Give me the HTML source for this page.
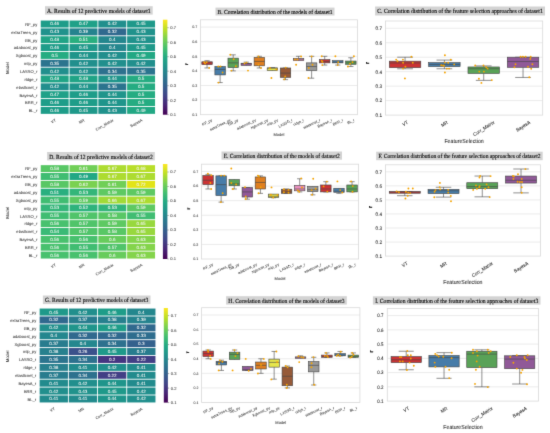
<!DOCTYPE html>
<html><head><meta charset="utf-8"><style>
html,body{margin:0;padding:0;background:#fff;}
text{paint-order:stroke;}
.lb{stroke:#262626;stroke-width:0.03px;}
.lb2{stroke:#262626;stroke-width:0.03px;}
.lb3{stroke:#262626;stroke-width:0.06px;}
.tt{stroke:#000;stroke-width:0.1px;}
.an{stroke:#fff;stroke-width:0.04px;}
svg{display:block;}
</style></head><body>
<svg width="550" height="433" viewBox="0 0 550 433" text-rendering="geometricPrecision">
<defs><filter id="soft" x="0" y="0" width="550" height="433" filterUnits="userSpaceOnUse" color-interpolation-filters="sRGB"><feConvolveMatrix order="3" kernelMatrix="1 8 1 8 64 8 1 8 1" edgeMode="duplicate"/></filter></defs>
<g filter="url(#soft)">
<rect width="550" height="433" fill="#fff"/>
<rect x="45" y="6.2" width="107.7" height="8.4" fill="#d3d3d3"/>
<text transform="translate(98.85,12.87) scale(1,1.12)" font-family="Liberation Serif, serif" font-size="5.60" text-anchor="middle" fill="#000" class="tt">A. Results of 12 predictive models of dataset1</text>
<rect x="40.75" y="20.55" width="27.9" height="6.95" fill="#1e9d89"/>
<text x="54.7" y="25.48" font-family="Liberation Sans, sans-serif" font-size="4.6" text-anchor="middle" fill="#f4f4f4" class="an">0.46</text>
<rect x="69.55" y="20.55" width="27.9" height="6.95" fill="#1fa188"/>
<text x="83.5" y="25.48" font-family="Liberation Sans, sans-serif" font-size="4.6" text-anchor="middle" fill="#f4f4f4" class="an">0.47</text>
<rect x="98.35" y="20.55" width="27.9" height="6.95" fill="#218f8d"/>
<text x="112.3" y="25.48" font-family="Liberation Sans, sans-serif" font-size="4.6" text-anchor="middle" fill="#f4f4f4" class="an">0.42</text>
<rect x="127.15" y="20.55" width="27.9" height="6.95" fill="#1f998a"/>
<text x="141.1" y="25.48" font-family="Liberation Sans, sans-serif" font-size="4.6" text-anchor="middle" fill="#f4f4f4" class="an">0.45</text>
<text x="37.3" y="25.88" font-family="Liberation Sans, sans-serif" font-size="4.1" text-anchor="end" fill="#262626" class="lb">RF_py</text>
<rect x="40.75" y="28.4" width="27.9" height="6.95" fill="#20928c"/>
<text x="54.7" y="33.33" font-family="Liberation Sans, sans-serif" font-size="4.6" text-anchor="middle" fill="#f4f4f4" class="an">0.43</text>
<rect x="69.55" y="28.4" width="27.9" height="6.95" fill="#25838e"/>
<text x="83.5" y="33.33" font-family="Liberation Sans, sans-serif" font-size="4.6" text-anchor="middle" fill="#f4f4f4" class="an">0.39</text>
<rect x="98.35" y="28.4" width="27.9" height="6.95" fill="#30698e"/>
<text x="112.3" y="33.33" font-family="Liberation Sans, sans-serif" font-size="4.6" text-anchor="middle" fill="#f4f4f4" class="an">0.32</text>
<rect x="127.15" y="28.4" width="27.9" height="6.95" fill="#20928c"/>
<text x="141.1" y="33.33" font-family="Liberation Sans, sans-serif" font-size="4.6" text-anchor="middle" fill="#f4f4f4" class="an">0.43</text>
<text x="37.3" y="33.73" font-family="Liberation Sans, sans-serif" font-size="4.1" text-anchor="end" fill="#262626" class="lb">extraTrees_py</text>
<rect x="40.75" y="36.25" width="27.9" height="6.95" fill="#20a486"/>
<text x="54.7" y="41.17" font-family="Liberation Sans, sans-serif" font-size="4.6" text-anchor="middle" fill="#f4f4f4" class="an">0.48</text>
<rect x="69.55" y="36.25" width="27.9" height="6.95" fill="#29af7f"/>
<text x="83.5" y="41.17" font-family="Liberation Sans, sans-serif" font-size="4.6" text-anchor="middle" fill="#f4f4f4" class="an">0.51</text>
<rect x="98.35" y="36.25" width="27.9" height="6.95" fill="#24878e"/>
<text x="112.3" y="41.17" font-family="Liberation Sans, sans-serif" font-size="4.6" text-anchor="middle" fill="#f4f4f4" class="an">0.4</text>
<rect x="127.15" y="36.25" width="27.9" height="6.95" fill="#20928c"/>
<text x="141.1" y="41.17" font-family="Liberation Sans, sans-serif" font-size="4.6" text-anchor="middle" fill="#f4f4f4" class="an">0.43</text>
<text x="37.3" y="41.57" font-family="Liberation Sans, sans-serif" font-size="4.1" text-anchor="end" fill="#262626" class="lb">GB_py</text>
<rect x="40.75" y="44.1" width="27.9" height="6.95" fill="#1e9d89"/>
<text x="54.7" y="49.02" font-family="Liberation Sans, sans-serif" font-size="4.6" text-anchor="middle" fill="#f4f4f4" class="an">0.46</text>
<rect x="69.55" y="44.1" width="27.9" height="6.95" fill="#1f998a"/>
<text x="83.5" y="49.02" font-family="Liberation Sans, sans-serif" font-size="4.6" text-anchor="middle" fill="#f4f4f4" class="an">0.45</text>
<rect x="98.35" y="44.1" width="27.9" height="6.95" fill="#24878e"/>
<text x="112.3" y="49.02" font-family="Liberation Sans, sans-serif" font-size="4.6" text-anchor="middle" fill="#f4f4f4" class="an">0.4</text>
<rect x="127.15" y="44.1" width="27.9" height="6.95" fill="#1f998a"/>
<text x="141.1" y="49.02" font-family="Liberation Sans, sans-serif" font-size="4.6" text-anchor="middle" fill="#f4f4f4" class="an">0.45</text>
<text x="37.3" y="49.42" font-family="Liberation Sans, sans-serif" font-size="4.1" text-anchor="end" fill="#262626" class="lb">adaboost_py</text>
<rect x="40.75" y="51.95" width="27.9" height="6.95" fill="#25ac82"/>
<text x="54.7" y="56.88" font-family="Liberation Sans, sans-serif" font-size="4.6" text-anchor="middle" fill="#f4f4f4" class="an">0.5</text>
<rect x="69.55" y="51.95" width="27.9" height="6.95" fill="#1f958b"/>
<text x="83.5" y="56.88" font-family="Liberation Sans, sans-serif" font-size="4.6" text-anchor="middle" fill="#f4f4f4" class="an">0.44</text>
<rect x="98.35" y="51.95" width="27.9" height="6.95" fill="#218f8d"/>
<text x="112.3" y="56.88" font-family="Liberation Sans, sans-serif" font-size="4.6" text-anchor="middle" fill="#f4f4f4" class="an">0.42</text>
<rect x="127.15" y="51.95" width="27.9" height="6.95" fill="#22a884"/>
<text x="141.1" y="56.88" font-family="Liberation Sans, sans-serif" font-size="4.6" text-anchor="middle" fill="#f4f4f4" class="an">0.49</text>
<text x="37.3" y="57.27" font-family="Liberation Sans, sans-serif" font-size="4.1" text-anchor="end" fill="#262626" class="lb">Xgboost_py</text>
<rect x="40.75" y="59.8" width="27.9" height="6.95" fill="#2b748e"/>
<text x="54.7" y="64.72" font-family="Liberation Sans, sans-serif" font-size="4.6" text-anchor="middle" fill="#f4f4f4" class="an">0.35</text>
<rect x="69.55" y="59.8" width="27.9" height="6.95" fill="#218f8d"/>
<text x="83.5" y="64.72" font-family="Liberation Sans, sans-serif" font-size="4.6" text-anchor="middle" fill="#f4f4f4" class="an">0.42</text>
<rect x="98.35" y="59.8" width="27.9" height="6.95" fill="#218f8d"/>
<text x="112.3" y="64.72" font-family="Liberation Sans, sans-serif" font-size="4.6" text-anchor="middle" fill="#f4f4f4" class="an">0.42</text>
<rect x="127.15" y="59.8" width="27.9" height="6.95" fill="#218f8d"/>
<text x="141.1" y="64.72" font-family="Liberation Sans, sans-serif" font-size="4.6" text-anchor="middle" fill="#f4f4f4" class="an">0.42</text>
<text x="37.3" y="65.12" font-family="Liberation Sans, sans-serif" font-size="4.1" text-anchor="end" fill="#262626" class="lb">mlp_py</text>
<rect x="40.75" y="67.65" width="27.9" height="6.95" fill="#218f8d"/>
<text x="54.7" y="72.57" font-family="Liberation Sans, sans-serif" font-size="4.6" text-anchor="middle" fill="#f4f4f4" class="an">0.42</text>
<rect x="69.55" y="67.65" width="27.9" height="6.95" fill="#218f8d"/>
<text x="83.5" y="72.57" font-family="Liberation Sans, sans-serif" font-size="4.6" text-anchor="middle" fill="#f4f4f4" class="an">0.42</text>
<rect x="98.35" y="67.65" width="27.9" height="6.95" fill="#2d718e"/>
<text x="112.3" y="72.57" font-family="Liberation Sans, sans-serif" font-size="4.6" text-anchor="middle" fill="#f4f4f4" class="an">0.34</text>
<rect x="127.15" y="67.65" width="27.9" height="6.95" fill="#2b748e"/>
<text x="141.1" y="72.57" font-family="Liberation Sans, sans-serif" font-size="4.6" text-anchor="middle" fill="#f4f4f4" class="an">0.35</text>
<text x="37.3" y="72.97" font-family="Liberation Sans, sans-serif" font-size="4.1" text-anchor="end" fill="#262626" class="lb">LASSO_r</text>
<rect x="40.75" y="75.5" width="27.9" height="6.95" fill="#20a486"/>
<text x="54.7" y="80.42" font-family="Liberation Sans, sans-serif" font-size="4.6" text-anchor="middle" fill="#f4f4f4" class="an">0.48</text>
<rect x="69.55" y="75.5" width="27.9" height="6.95" fill="#20a486"/>
<text x="83.5" y="80.42" font-family="Liberation Sans, sans-serif" font-size="4.6" text-anchor="middle" fill="#f4f4f4" class="an">0.48</text>
<rect x="98.35" y="75.5" width="27.9" height="6.95" fill="#1f958b"/>
<text x="112.3" y="80.42" font-family="Liberation Sans, sans-serif" font-size="4.6" text-anchor="middle" fill="#f4f4f4" class="an">0.44</text>
<rect x="127.15" y="75.5" width="27.9" height="6.95" fill="#25ac82"/>
<text x="141.1" y="80.42" font-family="Liberation Sans, sans-serif" font-size="4.6" text-anchor="middle" fill="#f4f4f4" class="an">0.5</text>
<text x="37.3" y="80.82" font-family="Liberation Sans, sans-serif" font-size="4.1" text-anchor="end" fill="#262626" class="lb">ridge_r</text>
<rect x="40.75" y="83.35" width="27.9" height="6.95" fill="#218f8d"/>
<text x="54.7" y="88.27" font-family="Liberation Sans, sans-serif" font-size="4.6" text-anchor="middle" fill="#f4f4f4" class="an">0.42</text>
<rect x="69.55" y="83.35" width="27.9" height="6.95" fill="#1f958b"/>
<text x="83.5" y="88.27" font-family="Liberation Sans, sans-serif" font-size="4.6" text-anchor="middle" fill="#f4f4f4" class="an">0.44</text>
<rect x="98.35" y="83.35" width="27.9" height="6.95" fill="#2b748e"/>
<text x="112.3" y="88.27" font-family="Liberation Sans, sans-serif" font-size="4.6" text-anchor="middle" fill="#f4f4f4" class="an">0.35</text>
<rect x="127.15" y="83.35" width="27.9" height="6.95" fill="#25ac82"/>
<text x="141.1" y="88.27" font-family="Liberation Sans, sans-serif" font-size="4.6" text-anchor="middle" fill="#f4f4f4" class="an">0.5</text>
<text x="37.3" y="88.67" font-family="Liberation Sans, sans-serif" font-size="4.1" text-anchor="end" fill="#262626" class="lb">elasticnet_r</text>
<rect x="40.75" y="91.2" width="27.9" height="6.95" fill="#1fa188"/>
<text x="54.7" y="96.12" font-family="Liberation Sans, sans-serif" font-size="4.6" text-anchor="middle" fill="#f4f4f4" class="an">0.47</text>
<rect x="69.55" y="91.2" width="27.9" height="6.95" fill="#1e9d89"/>
<text x="83.5" y="96.12" font-family="Liberation Sans, sans-serif" font-size="4.6" text-anchor="middle" fill="#f4f4f4" class="an">0.46</text>
<rect x="98.35" y="91.2" width="27.9" height="6.95" fill="#1f958b"/>
<text x="112.3" y="96.12" font-family="Liberation Sans, sans-serif" font-size="4.6" text-anchor="middle" fill="#f4f4f4" class="an">0.44</text>
<rect x="127.15" y="91.2" width="27.9" height="6.95" fill="#25ac82"/>
<text x="141.1" y="96.12" font-family="Liberation Sans, sans-serif" font-size="4.6" text-anchor="middle" fill="#f4f4f4" class="an">0.5</text>
<text x="37.3" y="96.52" font-family="Liberation Sans, sans-serif" font-size="4.1" text-anchor="end" fill="#262626" class="lb">BayesA_r</text>
<rect x="40.75" y="99.05" width="27.9" height="6.95" fill="#1e9d89"/>
<text x="54.7" y="103.97" font-family="Liberation Sans, sans-serif" font-size="4.6" text-anchor="middle" fill="#f4f4f4" class="an">0.46</text>
<rect x="69.55" y="99.05" width="27.9" height="6.95" fill="#1e9d89"/>
<text x="83.5" y="103.97" font-family="Liberation Sans, sans-serif" font-size="4.6" text-anchor="middle" fill="#f4f4f4" class="an">0.46</text>
<rect x="98.35" y="99.05" width="27.9" height="6.95" fill="#1f958b"/>
<text x="112.3" y="103.97" font-family="Liberation Sans, sans-serif" font-size="4.6" text-anchor="middle" fill="#f4f4f4" class="an">0.44</text>
<rect x="127.15" y="99.05" width="27.9" height="6.95" fill="#25ac82"/>
<text x="141.1" y="103.97" font-family="Liberation Sans, sans-serif" font-size="4.6" text-anchor="middle" fill="#f4f4f4" class="an">0.5</text>
<text x="37.3" y="104.37" font-family="Liberation Sans, sans-serif" font-size="4.1" text-anchor="end" fill="#262626" class="lb">BRR_r</text>
<rect x="40.75" y="106.9" width="27.9" height="6.95" fill="#1e9d89"/>
<text x="54.7" y="111.82" font-family="Liberation Sans, sans-serif" font-size="4.6" text-anchor="middle" fill="#f4f4f4" class="an">0.46</text>
<rect x="69.55" y="106.9" width="27.9" height="6.95" fill="#1f998a"/>
<text x="83.5" y="111.82" font-family="Liberation Sans, sans-serif" font-size="4.6" text-anchor="middle" fill="#f4f4f4" class="an">0.45</text>
<rect x="98.35" y="106.9" width="27.9" height="6.95" fill="#20928c"/>
<text x="112.3" y="111.82" font-family="Liberation Sans, sans-serif" font-size="4.6" text-anchor="middle" fill="#f4f4f4" class="an">0.43</text>
<rect x="127.15" y="106.9" width="27.9" height="6.95" fill="#22a884"/>
<text x="141.1" y="111.82" font-family="Liberation Sans, sans-serif" font-size="4.6" text-anchor="middle" fill="#f4f4f4" class="an">0.49</text>
<text x="37.3" y="112.22" font-family="Liberation Sans, sans-serif" font-size="4.1" text-anchor="end" fill="#262626" class="lb">BL_r</text>
<text transform="translate(7.7,68.2) rotate(-90)" font-family="Liberation Sans, sans-serif" font-size="4.3" text-anchor="middle" dy="0.36em" fill="#262626" class="lb">Model</text>
<text transform="translate(53.38,121.05) rotate(-30)" font-family="Liberation Sans, sans-serif" font-size="3.8" text-anchor="middle" dy="0.36em" fill="#262626" class="lb">VT</text>
<text transform="translate(81.73,121.31) rotate(-30)" font-family="Liberation Sans, sans-serif" font-size="3.8" text-anchor="middle" dy="0.36em" fill="#262626" class="lb">MR</text>
<text transform="translate(104.49,124.80) rotate(-30)" font-family="Liberation Sans, sans-serif" font-size="3.8" text-anchor="middle" dy="0.36em" fill="#262626" class="lb">Corr_Matrix</text>
<text transform="translate(136.22,123.11) rotate(-30)" font-family="Liberation Sans, sans-serif" font-size="3.8" text-anchor="middle" dy="0.36em" fill="#262626" class="lb">BayesA</text>
<defs><linearGradient id="cb0" x1="0" y1="1" x2="0" y2="0">
<stop offset="0.00" stop-color="#440154"/>
<stop offset="0.10" stop-color="#482475"/>
<stop offset="0.20" stop-color="#414487"/>
<stop offset="0.30" stop-color="#355f8d"/>
<stop offset="0.40" stop-color="#2a788e"/>
<stop offset="0.50" stop-color="#21918c"/>
<stop offset="0.60" stop-color="#22a884"/>
<stop offset="0.70" stop-color="#44bf70"/>
<stop offset="0.80" stop-color="#7ad151"/>
<stop offset="0.90" stop-color="#bddf26"/>
<stop offset="1.00" stop-color="#fde725"/>
</linearGradient></defs>
<rect x="162.9" y="19.7" width="4.5" height="95" fill="url(#cb0)"/>
<line x1="167.4" x2="168.7" y1="114.7" y2="114.7" stroke="#262626" stroke-width="0.4"/>
<text x="170.3" y="116.15" font-family="Liberation Sans, sans-serif" font-size="4.1" fill="#262626" class="lb">0.1</text>
<line x1="167.4" x2="168.7" y1="100.2" y2="100.2" stroke="#262626" stroke-width="0.4"/>
<text x="170.3" y="101.65" font-family="Liberation Sans, sans-serif" font-size="4.1" fill="#262626" class="lb">0.2</text>
<line x1="167.4" x2="168.7" y1="85.7" y2="85.7" stroke="#262626" stroke-width="0.4"/>
<text x="170.3" y="87.15" font-family="Liberation Sans, sans-serif" font-size="4.1" fill="#262626" class="lb">0.3</text>
<line x1="167.4" x2="168.7" y1="71.2" y2="71.2" stroke="#262626" stroke-width="0.4"/>
<text x="170.3" y="72.65" font-family="Liberation Sans, sans-serif" font-size="4.1" fill="#262626" class="lb">0.4</text>
<line x1="167.4" x2="168.7" y1="56.7" y2="56.7" stroke="#262626" stroke-width="0.4"/>
<text x="170.3" y="58.15" font-family="Liberation Sans, sans-serif" font-size="4.1" fill="#262626" class="lb">0.5</text>
<line x1="167.4" x2="168.7" y1="42.2" y2="42.2" stroke="#262626" stroke-width="0.4"/>
<text x="170.3" y="43.65" font-family="Liberation Sans, sans-serif" font-size="4.1" fill="#262626" class="lb">0.6</text>
<line x1="167.4" x2="168.7" y1="27.7" y2="27.7" stroke="#262626" stroke-width="0.4"/>
<text x="170.3" y="29.15" font-family="Liberation Sans, sans-serif" font-size="4.1" fill="#262626" class="lb">0.7</text>
<rect x="47.1" y="152" width="107.7" height="8.4" fill="#d3d3d3"/>
<text transform="translate(100.95,158.67) scale(1,1.12)" font-family="Liberation Serif, serif" font-size="5.60" text-anchor="middle" fill="#000" class="tt">D. Results of 12 predictive models of dataset2</text>
<rect x="40.75" y="165.15" width="27.9" height="6.96" fill="#58c765"/>
<text x="54.7" y="170.08" font-family="Liberation Sans, sans-serif" font-size="4.6" text-anchor="middle" fill="#f4f4f4" class="an">0.58</text>
<rect x="69.55" y="165.15" width="27.9" height="6.96" fill="#70cf57"/>
<text x="83.5" y="170.08" font-family="Liberation Sans, sans-serif" font-size="4.6" text-anchor="middle" fill="#f4f4f4" class="an">0.61</text>
<rect x="98.35" y="165.15" width="27.9" height="6.96" fill="#addc30"/>
<text x="112.3" y="170.08" font-family="Liberation Sans, sans-serif" font-size="4.6" text-anchor="middle" fill="#f4f4f4" class="an">0.67</text>
<rect x="127.15" y="165.15" width="27.9" height="6.96" fill="#b8de29"/>
<text x="141.1" y="170.08" font-family="Liberation Sans, sans-serif" font-size="4.6" text-anchor="middle" fill="#f4f4f4" class="an">0.68</text>
<text x="37.3" y="170.48" font-family="Liberation Sans, sans-serif" font-size="4.1" text-anchor="end" fill="#262626" class="lb">RF_py</text>
<rect x="40.75" y="173.01" width="27.9" height="6.96" fill="#40bd72"/>
<text x="54.7" y="177.94" font-family="Liberation Sans, sans-serif" font-size="4.6" text-anchor="middle" fill="#f4f4f4" class="an">0.55</text>
<rect x="69.55" y="173.01" width="27.9" height="6.96" fill="#22a884"/>
<text x="83.5" y="177.94" font-family="Liberation Sans, sans-serif" font-size="4.6" text-anchor="middle" fill="#f4f4f4" class="an">0.49</text>
<rect x="98.35" y="173.01" width="27.9" height="6.96" fill="#addc30"/>
<text x="112.3" y="177.94" font-family="Liberation Sans, sans-serif" font-size="4.6" text-anchor="middle" fill="#f4f4f4" class="an">0.67</text>
<rect x="127.15" y="173.01" width="27.9" height="6.96" fill="#addc30"/>
<text x="141.1" y="177.94" font-family="Liberation Sans, sans-serif" font-size="4.6" text-anchor="middle" fill="#f4f4f4" class="an">0.67</text>
<text x="37.3" y="178.34" font-family="Liberation Sans, sans-serif" font-size="4.1" text-anchor="end" fill="#262626" class="lb">extraTrees_py</text>
<rect x="40.75" y="180.87" width="27.9" height="6.96" fill="#58c765"/>
<text x="54.7" y="185.8" font-family="Liberation Sans, sans-serif" font-size="4.6" text-anchor="middle" fill="#f4f4f4" class="an">0.58</text>
<rect x="69.55" y="180.87" width="27.9" height="6.96" fill="#7ad151"/>
<text x="83.5" y="185.8" font-family="Liberation Sans, sans-serif" font-size="4.6" text-anchor="middle" fill="#f4f4f4" class="an">0.62</text>
<rect x="98.35" y="180.87" width="27.9" height="6.96" fill="#70cf57"/>
<text x="112.3" y="185.8" font-family="Liberation Sans, sans-serif" font-size="4.6" text-anchor="middle" fill="#f4f4f4" class="an">0.61</text>
<rect x="127.15" y="180.87" width="27.9" height="6.96" fill="#e2e418"/>
<text x="141.1" y="185.8" font-family="Liberation Sans, sans-serif" font-size="4.6" text-anchor="middle" fill="#f4f4f4" class="an">0.72</text>
<text x="37.3" y="186.2" font-family="Liberation Sans, sans-serif" font-size="4.1" text-anchor="end" fill="#262626" class="lb">GB_py</text>
<rect x="40.75" y="188.72" width="27.9" height="6.96" fill="#29af7f"/>
<text x="54.7" y="193.65" font-family="Liberation Sans, sans-serif" font-size="4.6" text-anchor="middle" fill="#f4f4f4" class="an">0.51</text>
<rect x="69.55" y="188.72" width="27.9" height="6.96" fill="#34b679"/>
<text x="83.5" y="193.65" font-family="Liberation Sans, sans-serif" font-size="4.6" text-anchor="middle" fill="#f4f4f4" class="an">0.53</text>
<rect x="98.35" y="188.72" width="27.9" height="6.96" fill="#5ec962"/>
<text x="112.3" y="193.65" font-family="Liberation Sans, sans-serif" font-size="4.6" text-anchor="middle" fill="#f4f4f4" class="an">0.59</text>
<rect x="127.15" y="188.72" width="27.9" height="6.96" fill="#5ec962"/>
<text x="141.1" y="193.65" font-family="Liberation Sans, sans-serif" font-size="4.6" text-anchor="middle" fill="#f4f4f4" class="an">0.59</text>
<text x="37.3" y="194.05" font-family="Liberation Sans, sans-serif" font-size="4.1" text-anchor="end" fill="#262626" class="lb">adaboost_py</text>
<rect x="40.75" y="196.58" width="27.9" height="6.96" fill="#40bd72"/>
<text x="54.7" y="201.51" font-family="Liberation Sans, sans-serif" font-size="4.6" text-anchor="middle" fill="#f4f4f4" class="an">0.55</text>
<rect x="69.55" y="196.58" width="27.9" height="6.96" fill="#5ec962"/>
<text x="83.5" y="201.51" font-family="Liberation Sans, sans-serif" font-size="4.6" text-anchor="middle" fill="#f4f4f4" class="an">0.59</text>
<rect x="98.35" y="196.58" width="27.9" height="6.96" fill="#a2da37"/>
<text x="112.3" y="201.51" font-family="Liberation Sans, sans-serif" font-size="4.6" text-anchor="middle" fill="#f4f4f4" class="an">0.66</text>
<rect x="127.15" y="196.58" width="27.9" height="6.96" fill="#addc30"/>
<text x="141.1" y="201.51" font-family="Liberation Sans, sans-serif" font-size="4.6" text-anchor="middle" fill="#f4f4f4" class="an">0.67</text>
<text x="37.3" y="201.91" font-family="Liberation Sans, sans-serif" font-size="4.1" text-anchor="end" fill="#262626" class="lb">Xgboost_py</text>
<rect x="40.75" y="204.44" width="27.9" height="6.96" fill="#34b679"/>
<text x="54.7" y="209.37" font-family="Liberation Sans, sans-serif" font-size="4.6" text-anchor="middle" fill="#f4f4f4" class="an">0.53</text>
<rect x="69.55" y="204.44" width="27.9" height="6.96" fill="#2eb37c"/>
<text x="83.5" y="209.37" font-family="Liberation Sans, sans-serif" font-size="4.6" text-anchor="middle" fill="#f4f4f4" class="an">0.52</text>
<rect x="98.35" y="204.44" width="27.9" height="6.96" fill="#34b679"/>
<text x="112.3" y="209.37" font-family="Liberation Sans, sans-serif" font-size="4.6" text-anchor="middle" fill="#f4f4f4" class="an">0.53</text>
<rect x="127.15" y="204.44" width="27.9" height="6.96" fill="#5ec962"/>
<text x="141.1" y="209.37" font-family="Liberation Sans, sans-serif" font-size="4.6" text-anchor="middle" fill="#f4f4f4" class="an">0.59</text>
<text x="37.3" y="209.77" font-family="Liberation Sans, sans-serif" font-size="4.1" text-anchor="end" fill="#262626" class="lb">mlp_py</text>
<rect x="40.75" y="212.3" width="27.9" height="6.96" fill="#40bd72"/>
<text x="54.7" y="217.23" font-family="Liberation Sans, sans-serif" font-size="4.6" text-anchor="middle" fill="#f4f4f4" class="an">0.55</text>
<rect x="69.55" y="212.3" width="27.9" height="6.96" fill="#50c46a"/>
<text x="83.5" y="217.23" font-family="Liberation Sans, sans-serif" font-size="4.6" text-anchor="middle" fill="#f4f4f4" class="an">0.57</text>
<rect x="98.35" y="212.3" width="27.9" height="6.96" fill="#58c765"/>
<text x="112.3" y="217.23" font-family="Liberation Sans, sans-serif" font-size="4.6" text-anchor="middle" fill="#f4f4f4" class="an">0.58</text>
<rect x="127.15" y="212.3" width="27.9" height="6.96" fill="#40bd72"/>
<text x="141.1" y="217.23" font-family="Liberation Sans, sans-serif" font-size="4.6" text-anchor="middle" fill="#f4f4f4" class="an">0.55</text>
<text x="37.3" y="217.63" font-family="Liberation Sans, sans-serif" font-size="4.1" text-anchor="end" fill="#262626" class="lb">LASSO_r</text>
<rect x="40.75" y="220.16" width="27.9" height="6.96" fill="#48c16e"/>
<text x="54.7" y="225.09" font-family="Liberation Sans, sans-serif" font-size="4.6" text-anchor="middle" fill="#f4f4f4" class="an">0.56</text>
<rect x="69.55" y="220.16" width="27.9" height="6.96" fill="#50c46a"/>
<text x="83.5" y="225.09" font-family="Liberation Sans, sans-serif" font-size="4.6" text-anchor="middle" fill="#f4f4f4" class="an">0.57</text>
<rect x="98.35" y="220.16" width="27.9" height="6.96" fill="#5ec962"/>
<text x="112.3" y="225.09" font-family="Liberation Sans, sans-serif" font-size="4.6" text-anchor="middle" fill="#f4f4f4" class="an">0.59</text>
<rect x="127.15" y="220.16" width="27.9" height="6.96" fill="#98d83e"/>
<text x="141.1" y="225.09" font-family="Liberation Sans, sans-serif" font-size="4.6" text-anchor="middle" fill="#f4f4f4" class="an">0.65</text>
<text x="37.3" y="225.49" font-family="Liberation Sans, sans-serif" font-size="4.1" text-anchor="end" fill="#262626" class="lb">ridge_r</text>
<rect x="40.75" y="228.02" width="27.9" height="6.96" fill="#3aba76"/>
<text x="54.7" y="232.95" font-family="Liberation Sans, sans-serif" font-size="4.6" text-anchor="middle" fill="#f4f4f4" class="an">0.54</text>
<rect x="69.55" y="228.02" width="27.9" height="6.96" fill="#50c46a"/>
<text x="83.5" y="232.95" font-family="Liberation Sans, sans-serif" font-size="4.6" text-anchor="middle" fill="#f4f4f4" class="an">0.57</text>
<rect x="98.35" y="228.02" width="27.9" height="6.96" fill="#58c765"/>
<text x="112.3" y="232.95" font-family="Liberation Sans, sans-serif" font-size="4.6" text-anchor="middle" fill="#f4f4f4" class="an">0.58</text>
<rect x="127.15" y="228.02" width="27.9" height="6.96" fill="#98d83e"/>
<text x="141.1" y="232.95" font-family="Liberation Sans, sans-serif" font-size="4.6" text-anchor="middle" fill="#f4f4f4" class="an">0.65</text>
<text x="37.3" y="233.35" font-family="Liberation Sans, sans-serif" font-size="4.1" text-anchor="end" fill="#262626" class="lb">elasticnet_r</text>
<rect x="40.75" y="235.88" width="27.9" height="6.96" fill="#48c16e"/>
<text x="54.7" y="240.8" font-family="Liberation Sans, sans-serif" font-size="4.6" text-anchor="middle" fill="#f4f4f4" class="an">0.56</text>
<rect x="69.55" y="235.88" width="27.9" height="6.96" fill="#48c16e"/>
<text x="83.5" y="240.8" font-family="Liberation Sans, sans-serif" font-size="4.6" text-anchor="middle" fill="#f4f4f4" class="an">0.56</text>
<rect x="98.35" y="235.88" width="27.9" height="6.96" fill="#67cc5c"/>
<text x="112.3" y="240.8" font-family="Liberation Sans, sans-serif" font-size="4.6" text-anchor="middle" fill="#f4f4f4" class="an">0.6</text>
<rect x="127.15" y="235.88" width="27.9" height="6.96" fill="#84d44b"/>
<text x="141.1" y="240.8" font-family="Liberation Sans, sans-serif" font-size="4.6" text-anchor="middle" fill="#f4f4f4" class="an">0.63</text>
<text x="37.3" y="241.2" font-family="Liberation Sans, sans-serif" font-size="4.1" text-anchor="end" fill="#262626" class="lb">BayesA_r</text>
<rect x="40.75" y="243.73" width="27.9" height="6.96" fill="#48c16e"/>
<text x="54.7" y="248.66" font-family="Liberation Sans, sans-serif" font-size="4.6" text-anchor="middle" fill="#f4f4f4" class="an">0.56</text>
<rect x="69.55" y="243.73" width="27.9" height="6.96" fill="#40bd72"/>
<text x="83.5" y="248.66" font-family="Liberation Sans, sans-serif" font-size="4.6" text-anchor="middle" fill="#f4f4f4" class="an">0.55</text>
<rect x="98.35" y="243.73" width="27.9" height="6.96" fill="#50c46a"/>
<text x="112.3" y="248.66" font-family="Liberation Sans, sans-serif" font-size="4.6" text-anchor="middle" fill="#f4f4f4" class="an">0.57</text>
<rect x="127.15" y="243.73" width="27.9" height="6.96" fill="#84d44b"/>
<text x="141.1" y="248.66" font-family="Liberation Sans, sans-serif" font-size="4.6" text-anchor="middle" fill="#f4f4f4" class="an">0.63</text>
<text x="37.3" y="249.06" font-family="Liberation Sans, sans-serif" font-size="4.1" text-anchor="end" fill="#262626" class="lb">BRR_r</text>
<rect x="40.75" y="251.59" width="27.9" height="6.96" fill="#48c16e"/>
<text x="54.7" y="256.52" font-family="Liberation Sans, sans-serif" font-size="4.6" text-anchor="middle" fill="#f4f4f4" class="an">0.56</text>
<rect x="69.55" y="251.59" width="27.9" height="6.96" fill="#48c16e"/>
<text x="83.5" y="256.52" font-family="Liberation Sans, sans-serif" font-size="4.6" text-anchor="middle" fill="#f4f4f4" class="an">0.56</text>
<rect x="98.35" y="251.59" width="27.9" height="6.96" fill="#67cc5c"/>
<text x="112.3" y="256.52" font-family="Liberation Sans, sans-serif" font-size="4.6" text-anchor="middle" fill="#f4f4f4" class="an">0.6</text>
<rect x="127.15" y="251.59" width="27.9" height="6.96" fill="#84d44b"/>
<text x="141.1" y="256.52" font-family="Liberation Sans, sans-serif" font-size="4.6" text-anchor="middle" fill="#f4f4f4" class="an">0.63</text>
<text x="37.3" y="256.92" font-family="Liberation Sans, sans-serif" font-size="4.1" text-anchor="end" fill="#262626" class="lb">BL_r</text>
<text transform="translate(7.7,212.85) rotate(-90)" font-family="Liberation Sans, sans-serif" font-size="4.3" text-anchor="middle" dy="0.36em" fill="#262626" class="lb">Model</text>
<text transform="translate(53.38,265.75) rotate(-30)" font-family="Liberation Sans, sans-serif" font-size="3.8" text-anchor="middle" dy="0.36em" fill="#262626" class="lb">VT</text>
<text transform="translate(81.73,266.01) rotate(-30)" font-family="Liberation Sans, sans-serif" font-size="3.8" text-anchor="middle" dy="0.36em" fill="#262626" class="lb">MR</text>
<text transform="translate(104.49,269.50) rotate(-30)" font-family="Liberation Sans, sans-serif" font-size="3.8" text-anchor="middle" dy="0.36em" fill="#262626" class="lb">Corr_Matrix</text>
<text transform="translate(136.22,267.81) rotate(-30)" font-family="Liberation Sans, sans-serif" font-size="3.8" text-anchor="middle" dy="0.36em" fill="#262626" class="lb">BayesA</text>
<defs><linearGradient id="cb1" x1="0" y1="1" x2="0" y2="0">
<stop offset="0.00" stop-color="#440154"/>
<stop offset="0.10" stop-color="#482475"/>
<stop offset="0.20" stop-color="#414487"/>
<stop offset="0.30" stop-color="#355f8d"/>
<stop offset="0.40" stop-color="#2a788e"/>
<stop offset="0.50" stop-color="#21918c"/>
<stop offset="0.60" stop-color="#22a884"/>
<stop offset="0.70" stop-color="#44bf70"/>
<stop offset="0.80" stop-color="#7ad151"/>
<stop offset="0.90" stop-color="#bddf26"/>
<stop offset="1.00" stop-color="#fde725"/>
</linearGradient></defs>
<rect x="162.9" y="164" width="4.5" height="95" fill="url(#cb1)"/>
<line x1="167.4" x2="168.7" y1="259" y2="259" stroke="#262626" stroke-width="0.4"/>
<text x="170.3" y="260.45" font-family="Liberation Sans, sans-serif" font-size="4.1" fill="#262626" class="lb">0.1</text>
<line x1="167.4" x2="168.7" y1="244.5" y2="244.5" stroke="#262626" stroke-width="0.4"/>
<text x="170.3" y="245.95" font-family="Liberation Sans, sans-serif" font-size="4.1" fill="#262626" class="lb">0.2</text>
<line x1="167.4" x2="168.7" y1="230" y2="230" stroke="#262626" stroke-width="0.4"/>
<text x="170.3" y="231.45" font-family="Liberation Sans, sans-serif" font-size="4.1" fill="#262626" class="lb">0.3</text>
<line x1="167.4" x2="168.7" y1="215.5" y2="215.5" stroke="#262626" stroke-width="0.4"/>
<text x="170.3" y="216.95" font-family="Liberation Sans, sans-serif" font-size="4.1" fill="#262626" class="lb">0.4</text>
<line x1="167.4" x2="168.7" y1="201" y2="201" stroke="#262626" stroke-width="0.4"/>
<text x="170.3" y="202.45" font-family="Liberation Sans, sans-serif" font-size="4.1" fill="#262626" class="lb">0.5</text>
<line x1="167.4" x2="168.7" y1="186.5" y2="186.5" stroke="#262626" stroke-width="0.4"/>
<text x="170.3" y="187.95" font-family="Liberation Sans, sans-serif" font-size="4.1" fill="#262626" class="lb">0.6</text>
<line x1="167.4" x2="168.7" y1="172" y2="172" stroke="#262626" stroke-width="0.4"/>
<text x="170.3" y="173.45" font-family="Liberation Sans, sans-serif" font-size="4.1" fill="#262626" class="lb">0.7</text>
<rect x="42.9" y="295.5" width="107.6" height="8.6" fill="#d3d3d3"/>
<text transform="translate(96.7,302.27) scale(1,1.12)" font-family="Liberation Serif, serif" font-size="5.59" text-anchor="middle" fill="#000" class="tt">G. Results of 12 predictive models of dataset3</text>
<rect x="39.65" y="308.55" width="28.28" height="7" fill="#1f998a"/>
<text x="53.79" y="313.5" font-family="Liberation Sans, sans-serif" font-size="4.6" text-anchor="middle" fill="#f4f4f4" class="an">0.45</text>
<rect x="68.83" y="308.55" width="28.28" height="7" fill="#218f8d"/>
<text x="82.96" y="313.5" font-family="Liberation Sans, sans-serif" font-size="4.6" text-anchor="middle" fill="#f4f4f4" class="an">0.42</text>
<rect x="98" y="308.55" width="28.28" height="7" fill="#1e9d89"/>
<text x="112.14" y="313.5" font-family="Liberation Sans, sans-serif" font-size="4.6" text-anchor="middle" fill="#f4f4f4" class="an">0.46</text>
<rect x="127.18" y="308.55" width="28.28" height="7" fill="#24878e"/>
<text x="141.31" y="313.5" font-family="Liberation Sans, sans-serif" font-size="4.6" text-anchor="middle" fill="#f4f4f4" class="an">0.4</text>
<text x="36.2" y="313.9" font-family="Liberation Sans, sans-serif" font-size="4.1" text-anchor="end" fill="#262626" class="lb">RF_py</text>
<rect x="39.65" y="316.45" width="28.28" height="7" fill="#30698e"/>
<text x="53.79" y="321.4" font-family="Liberation Sans, sans-serif" font-size="4.6" text-anchor="middle" fill="#f4f4f4" class="an">0.32</text>
<rect x="68.83" y="316.45" width="28.28" height="7" fill="#287c8e"/>
<text x="82.96" y="321.4" font-family="Liberation Sans, sans-serif" font-size="4.6" text-anchor="middle" fill="#f4f4f4" class="an">0.37</text>
<rect x="98" y="316.45" width="28.28" height="7" fill="#27808e"/>
<text x="112.14" y="321.4" font-family="Liberation Sans, sans-serif" font-size="4.6" text-anchor="middle" fill="#f4f4f4" class="an">0.38</text>
<rect x="127.18" y="316.45" width="28.28" height="7" fill="#25838e"/>
<text x="141.31" y="321.4" font-family="Liberation Sans, sans-serif" font-size="4.6" text-anchor="middle" fill="#f4f4f4" class="an">0.39</text>
<text x="36.2" y="321.8" font-family="Liberation Sans, sans-serif" font-size="4.1" text-anchor="end" fill="#262626" class="lb">extraTrees_py</text>
<rect x="39.65" y="324.35" width="28.28" height="7" fill="#218f8d"/>
<text x="53.79" y="329.3" font-family="Liberation Sans, sans-serif" font-size="4.6" text-anchor="middle" fill="#f4f4f4" class="an">0.42</text>
<rect x="68.83" y="324.35" width="28.28" height="7" fill="#1f958b"/>
<text x="82.96" y="329.3" font-family="Liberation Sans, sans-serif" font-size="4.6" text-anchor="middle" fill="#f4f4f4" class="an">0.44</text>
<rect x="98" y="324.35" width="28.28" height="7" fill="#1e9d89"/>
<text x="112.14" y="329.3" font-family="Liberation Sans, sans-serif" font-size="4.6" text-anchor="middle" fill="#f4f4f4" class="an">0.46</text>
<rect x="127.18" y="324.35" width="28.28" height="7" fill="#30698e"/>
<text x="141.31" y="329.3" font-family="Liberation Sans, sans-serif" font-size="4.6" text-anchor="middle" fill="#f4f4f4" class="an">0.32</text>
<text x="36.2" y="329.7" font-family="Liberation Sans, sans-serif" font-size="4.1" text-anchor="end" fill="#262626" class="lb">GB_py</text>
<rect x="39.65" y="332.25" width="28.28" height="7" fill="#24878e"/>
<text x="53.79" y="337.2" font-family="Liberation Sans, sans-serif" font-size="4.6" text-anchor="middle" fill="#f4f4f4" class="an">0.4</text>
<rect x="68.83" y="332.25" width="28.28" height="7" fill="#30698e"/>
<text x="82.96" y="337.2" font-family="Liberation Sans, sans-serif" font-size="4.6" text-anchor="middle" fill="#f4f4f4" class="an">0.32</text>
<rect x="98" y="332.25" width="28.28" height="7" fill="#30698e"/>
<text x="112.14" y="337.2" font-family="Liberation Sans, sans-serif" font-size="4.6" text-anchor="middle" fill="#f4f4f4" class="an">0.32</text>
<rect x="127.18" y="332.25" width="28.28" height="7" fill="#2e6d8e"/>
<text x="141.31" y="337.2" font-family="Liberation Sans, sans-serif" font-size="4.6" text-anchor="middle" fill="#f4f4f4" class="an">0.33</text>
<text x="36.2" y="337.6" font-family="Liberation Sans, sans-serif" font-size="4.1" text-anchor="end" fill="#262626" class="lb">adaboost_py</text>
<rect x="39.65" y="340.15" width="28.28" height="7" fill="#287c8e"/>
<text x="53.79" y="345.1" font-family="Liberation Sans, sans-serif" font-size="4.6" text-anchor="middle" fill="#f4f4f4" class="an">0.37</text>
<rect x="68.83" y="340.15" width="28.28" height="7" fill="#24878e"/>
<text x="82.96" y="345.1" font-family="Liberation Sans, sans-serif" font-size="4.6" text-anchor="middle" fill="#f4f4f4" class="an">0.4</text>
<rect x="98" y="340.15" width="28.28" height="7" fill="#2d718e"/>
<text x="112.14" y="345.1" font-family="Liberation Sans, sans-serif" font-size="4.6" text-anchor="middle" fill="#f4f4f4" class="an">0.34</text>
<rect x="127.18" y="340.15" width="28.28" height="7" fill="#34618d"/>
<text x="141.31" y="345.1" font-family="Liberation Sans, sans-serif" font-size="4.6" text-anchor="middle" fill="#f4f4f4" class="an">0.3</text>
<text x="36.2" y="345.5" font-family="Liberation Sans, sans-serif" font-size="4.1" text-anchor="end" fill="#262626" class="lb">Xgboost_py</text>
<rect x="39.65" y="348.05" width="28.28" height="7" fill="#27808e"/>
<text x="53.79" y="353" font-family="Liberation Sans, sans-serif" font-size="4.6" text-anchor="middle" fill="#f4f4f4" class="an">0.38</text>
<rect x="68.83" y="348.05" width="28.28" height="7" fill="#3b518b"/>
<text x="82.96" y="353" font-family="Liberation Sans, sans-serif" font-size="4.6" text-anchor="middle" fill="#f4f4f4" class="an">0.26</text>
<rect x="98" y="348.05" width="28.28" height="7" fill="#1f998a"/>
<text x="112.14" y="353" font-family="Liberation Sans, sans-serif" font-size="4.6" text-anchor="middle" fill="#f4f4f4" class="an">0.45</text>
<rect x="127.18" y="348.05" width="28.28" height="7" fill="#287c8e"/>
<text x="141.31" y="353" font-family="Liberation Sans, sans-serif" font-size="4.6" text-anchor="middle" fill="#f4f4f4" class="an">0.37</text>
<text x="36.2" y="353.4" font-family="Liberation Sans, sans-serif" font-size="4.1" text-anchor="end" fill="#262626" class="lb">mlp_py</text>
<rect x="39.65" y="355.95" width="28.28" height="7" fill="#2b748e"/>
<text x="53.79" y="360.9" font-family="Liberation Sans, sans-serif" font-size="4.6" text-anchor="middle" fill="#f4f4f4" class="an">0.35</text>
<rect x="68.83" y="355.95" width="28.28" height="7" fill="#2d718e"/>
<text x="82.96" y="360.9" font-family="Liberation Sans, sans-serif" font-size="4.6" text-anchor="middle" fill="#f4f4f4" class="an">0.34</text>
<rect x="98" y="355.95" width="28.28" height="7" fill="#453581"/>
<text x="112.14" y="360.9" font-family="Liberation Sans, sans-serif" font-size="4.6" text-anchor="middle" fill="#f4f4f4" class="an">0.2</text>
<rect x="127.18" y="355.95" width="28.28" height="7" fill="#423f85"/>
<text x="141.31" y="360.9" font-family="Liberation Sans, sans-serif" font-size="4.6" text-anchor="middle" fill="#f4f4f4" class="an">0.22</text>
<text x="36.2" y="361.3" font-family="Liberation Sans, sans-serif" font-size="4.1" text-anchor="end" fill="#262626" class="lb">LASSO_r</text>
<rect x="39.65" y="363.85" width="28.28" height="7" fill="#27808e"/>
<text x="53.79" y="368.8" font-family="Liberation Sans, sans-serif" font-size="4.6" text-anchor="middle" fill="#f4f4f4" class="an">0.38</text>
<rect x="68.83" y="363.85" width="28.28" height="7" fill="#228b8d"/>
<text x="82.96" y="368.8" font-family="Liberation Sans, sans-serif" font-size="4.6" text-anchor="middle" fill="#f4f4f4" class="an">0.41</text>
<rect x="98" y="363.85" width="28.28" height="7" fill="#218f8d"/>
<text x="112.14" y="368.8" font-family="Liberation Sans, sans-serif" font-size="4.6" text-anchor="middle" fill="#f4f4f4" class="an">0.42</text>
<rect x="127.18" y="363.85" width="28.28" height="7" fill="#228b8d"/>
<text x="141.31" y="368.8" font-family="Liberation Sans, sans-serif" font-size="4.6" text-anchor="middle" fill="#f4f4f4" class="an">0.41</text>
<text x="36.2" y="369.2" font-family="Liberation Sans, sans-serif" font-size="4.1" text-anchor="end" fill="#262626" class="lb">ridge_r</text>
<rect x="39.65" y="371.75" width="28.28" height="7" fill="#287c8e"/>
<text x="53.79" y="376.7" font-family="Liberation Sans, sans-serif" font-size="4.6" text-anchor="middle" fill="#f4f4f4" class="an">0.37</text>
<rect x="68.83" y="371.75" width="28.28" height="7" fill="#2d718e"/>
<text x="82.96" y="376.7" font-family="Liberation Sans, sans-serif" font-size="4.6" text-anchor="middle" fill="#f4f4f4" class="an">0.34</text>
<rect x="98" y="371.75" width="28.28" height="7" fill="#423f85"/>
<text x="112.14" y="376.7" font-family="Liberation Sans, sans-serif" font-size="4.6" text-anchor="middle" fill="#f4f4f4" class="an">0.22</text>
<rect x="127.18" y="371.75" width="28.28" height="7" fill="#228b8d"/>
<text x="141.31" y="376.7" font-family="Liberation Sans, sans-serif" font-size="4.6" text-anchor="middle" fill="#f4f4f4" class="an">0.41</text>
<text x="36.2" y="377.1" font-family="Liberation Sans, sans-serif" font-size="4.1" text-anchor="end" fill="#262626" class="lb">elasticnet_r</text>
<rect x="39.65" y="379.65" width="28.28" height="7" fill="#228b8d"/>
<text x="53.79" y="384.6" font-family="Liberation Sans, sans-serif" font-size="4.6" text-anchor="middle" fill="#f4f4f4" class="an">0.41</text>
<rect x="68.83" y="379.65" width="28.28" height="7" fill="#218f8d"/>
<text x="82.96" y="384.6" font-family="Liberation Sans, sans-serif" font-size="4.6" text-anchor="middle" fill="#f4f4f4" class="an">0.42</text>
<rect x="98" y="379.65" width="28.28" height="7" fill="#1f958b"/>
<text x="112.14" y="384.6" font-family="Liberation Sans, sans-serif" font-size="4.6" text-anchor="middle" fill="#f4f4f4" class="an">0.44</text>
<rect x="127.18" y="379.65" width="28.28" height="7" fill="#228b8d"/>
<text x="141.31" y="384.6" font-family="Liberation Sans, sans-serif" font-size="4.6" text-anchor="middle" fill="#f4f4f4" class="an">0.41</text>
<text x="36.2" y="385" font-family="Liberation Sans, sans-serif" font-size="4.1" text-anchor="end" fill="#262626" class="lb">BayesA_r</text>
<rect x="39.65" y="387.55" width="28.28" height="7" fill="#218f8d"/>
<text x="53.79" y="392.5" font-family="Liberation Sans, sans-serif" font-size="4.6" text-anchor="middle" fill="#f4f4f4" class="an">0.42</text>
<rect x="68.83" y="387.55" width="28.28" height="7" fill="#20928c"/>
<text x="82.96" y="392.5" font-family="Liberation Sans, sans-serif" font-size="4.6" text-anchor="middle" fill="#f4f4f4" class="an">0.43</text>
<rect x="98" y="387.55" width="28.28" height="7" fill="#1f998a"/>
<text x="112.14" y="392.5" font-family="Liberation Sans, sans-serif" font-size="4.6" text-anchor="middle" fill="#f4f4f4" class="an">0.45</text>
<rect x="127.18" y="387.55" width="28.28" height="7" fill="#218f8d"/>
<text x="141.31" y="392.5" font-family="Liberation Sans, sans-serif" font-size="4.6" text-anchor="middle" fill="#f4f4f4" class="an">0.42</text>
<text x="36.2" y="392.9" font-family="Liberation Sans, sans-serif" font-size="4.1" text-anchor="end" fill="#262626" class="lb">BRR_r</text>
<rect x="39.65" y="395.45" width="28.28" height="7" fill="#228b8d"/>
<text x="53.79" y="400.4" font-family="Liberation Sans, sans-serif" font-size="4.6" text-anchor="middle" fill="#f4f4f4" class="an">0.41</text>
<rect x="68.83" y="395.45" width="28.28" height="7" fill="#228b8d"/>
<text x="82.96" y="400.4" font-family="Liberation Sans, sans-serif" font-size="4.6" text-anchor="middle" fill="#f4f4f4" class="an">0.41</text>
<rect x="98" y="395.45" width="28.28" height="7" fill="#1f958b"/>
<text x="112.14" y="400.4" font-family="Liberation Sans, sans-serif" font-size="4.6" text-anchor="middle" fill="#f4f4f4" class="an">0.44</text>
<rect x="127.18" y="395.45" width="28.28" height="7" fill="#218f8d"/>
<text x="141.31" y="400.4" font-family="Liberation Sans, sans-serif" font-size="4.6" text-anchor="middle" fill="#f4f4f4" class="an">0.42</text>
<text x="36.2" y="400.8" font-family="Liberation Sans, sans-serif" font-size="4.1" text-anchor="end" fill="#262626" class="lb">BL_r</text>
<text transform="translate(7.7,356.5) rotate(-90)" font-family="Liberation Sans, sans-serif" font-size="4.3" text-anchor="middle" dy="0.36em" fill="#262626" class="lb">Model</text>
<text transform="translate(52.47,409.65) rotate(-30)" font-family="Liberation Sans, sans-serif" font-size="3.8" text-anchor="middle" dy="0.36em" fill="#262626" class="lb">VT</text>
<text transform="translate(81.19,409.91) rotate(-30)" font-family="Liberation Sans, sans-serif" font-size="3.8" text-anchor="middle" dy="0.36em" fill="#262626" class="lb">MR</text>
<text transform="translate(104.33,413.40) rotate(-30)" font-family="Liberation Sans, sans-serif" font-size="3.8" text-anchor="middle" dy="0.36em" fill="#262626" class="lb">Corr_Matrix</text>
<text transform="translate(136.43,411.71) rotate(-30)" font-family="Liberation Sans, sans-serif" font-size="3.8" text-anchor="middle" dy="0.36em" fill="#262626" class="lb">BayesA</text>
<defs><linearGradient id="cb2" x1="0" y1="1" x2="0" y2="0">
<stop offset="0.00" stop-color="#440154"/>
<stop offset="0.10" stop-color="#482475"/>
<stop offset="0.20" stop-color="#414487"/>
<stop offset="0.30" stop-color="#355f8d"/>
<stop offset="0.40" stop-color="#2a788e"/>
<stop offset="0.50" stop-color="#21918c"/>
<stop offset="0.60" stop-color="#22a884"/>
<stop offset="0.70" stop-color="#44bf70"/>
<stop offset="0.80" stop-color="#7ad151"/>
<stop offset="0.90" stop-color="#bddf26"/>
<stop offset="1.00" stop-color="#fde725"/>
</linearGradient></defs>
<rect x="163.8" y="308" width="4.1" height="94.6" fill="url(#cb2)"/>
<line x1="167.9" x2="169.2" y1="402.6" y2="402.6" stroke="#262626" stroke-width="0.4"/>
<text x="170.8" y="404.05" font-family="Liberation Sans, sans-serif" font-size="4.1" fill="#262626" class="lb">0.1</text>
<line x1="167.9" x2="169.2" y1="388.1" y2="388.1" stroke="#262626" stroke-width="0.4"/>
<text x="170.8" y="389.55" font-family="Liberation Sans, sans-serif" font-size="4.1" fill="#262626" class="lb">0.2</text>
<line x1="167.9" x2="169.2" y1="373.6" y2="373.6" stroke="#262626" stroke-width="0.4"/>
<text x="170.8" y="375.05" font-family="Liberation Sans, sans-serif" font-size="4.1" fill="#262626" class="lb">0.3</text>
<line x1="167.9" x2="169.2" y1="359.1" y2="359.1" stroke="#262626" stroke-width="0.4"/>
<text x="170.8" y="360.55" font-family="Liberation Sans, sans-serif" font-size="4.1" fill="#262626" class="lb">0.4</text>
<line x1="167.9" x2="169.2" y1="344.6" y2="344.6" stroke="#262626" stroke-width="0.4"/>
<text x="170.8" y="346.05" font-family="Liberation Sans, sans-serif" font-size="4.1" fill="#262626" class="lb">0.5</text>
<line x1="167.9" x2="169.2" y1="330.1" y2="330.1" stroke="#262626" stroke-width="0.4"/>
<text x="170.8" y="331.55" font-family="Liberation Sans, sans-serif" font-size="4.1" fill="#262626" class="lb">0.6</text>
<line x1="167.9" x2="169.2" y1="315.6" y2="315.6" stroke="#262626" stroke-width="0.4"/>
<text x="170.8" y="317.05" font-family="Liberation Sans, sans-serif" font-size="4.1" fill="#262626" class="lb">0.7</text>
<rect x="215.5" y="7.6" width="119" height="7.9" fill="#d3d3d3"/>
<text transform="translate(275,13.98) scale(1,1.12)" font-family="Liberation Serif, serif" font-size="5.50" text-anchor="middle" fill="#000" class="tt">B. Correlation distribution of the models of dataset1</text>
<text transform="translate(197.3,116.03) scale(1,1.0)" font-family="Liberation Sans, sans-serif" font-size="3.7" text-anchor="end" fill="#262626" class="lb2">0.1</text>
<line x1="200.5" x2="357.4" y1="100.1" y2="100.1" stroke="#e6e6e6" stroke-width="0.8"/>
<text transform="translate(197.3,101.43) scale(1,1.0)" font-family="Liberation Sans, sans-serif" font-size="3.7" text-anchor="end" fill="#262626" class="lb2">0.2</text>
<line x1="200.5" x2="357.4" y1="85.5" y2="85.5" stroke="#e6e6e6" stroke-width="0.8"/>
<text transform="translate(197.3,86.83) scale(1,1.0)" font-family="Liberation Sans, sans-serif" font-size="3.7" text-anchor="end" fill="#262626" class="lb2">0.3</text>
<line x1="200.5" x2="357.4" y1="70.9" y2="70.9" stroke="#e6e6e6" stroke-width="0.8"/>
<text transform="translate(197.3,72.23) scale(1,1.0)" font-family="Liberation Sans, sans-serif" font-size="3.7" text-anchor="end" fill="#262626" class="lb2">0.4</text>
<line x1="200.5" x2="357.4" y1="56.3" y2="56.3" stroke="#e6e6e6" stroke-width="0.8"/>
<text transform="translate(197.3,57.63) scale(1,1.0)" font-family="Liberation Sans, sans-serif" font-size="3.7" text-anchor="end" fill="#262626" class="lb2">0.5</text>
<line x1="200.5" x2="357.4" y1="41.7" y2="41.7" stroke="#e6e6e6" stroke-width="0.8"/>
<text transform="translate(197.3,43.03) scale(1,1.0)" font-family="Liberation Sans, sans-serif" font-size="3.7" text-anchor="end" fill="#262626" class="lb2">0.6</text>
<line x1="200.5" x2="357.4" y1="27.1" y2="27.1" stroke="#e6e6e6" stroke-width="0.8"/>
<text transform="translate(197.3,28.43) scale(1,1.0)" font-family="Liberation Sans, sans-serif" font-size="3.7" text-anchor="end" fill="#262626" class="lb2">0.7</text>
<rect x="200.5" y="19.8" width="156.9" height="94.9" fill="none" stroke="#d9d9d9" stroke-width="0.8"/>
<line x1="207.04" x2="207.04" y1="61.77" y2="60.68" stroke="#444444" stroke-width="0.6"/>
<line x1="207.04" x2="207.04" y1="64.69" y2="67.98" stroke="#444444" stroke-width="0.6"/>
<line x1="204.42" x2="209.65" y1="60.68" y2="60.68" stroke="#444444" stroke-width="0.6"/>
<line x1="204.42" x2="209.65" y1="67.98" y2="67.98" stroke="#444444" stroke-width="0.6"/>
<rect x="201.81" y="61.77" width="10.46" height="2.92" fill="#cb3335" stroke="#444444" stroke-width="0.6"/>
<line x1="201.81" x2="212.27" y1="62.87" y2="62.87" stroke="#444444" stroke-width="0.6"/>
<text transform="translate(207.04,122.14) rotate(-26)" font-family="Liberation Sans, sans-serif" font-size="3.6" text-anchor="middle" dy="0.36em" fill="#262626" class="lb2">RF_py</text>
<line x1="220.11" x2="220.11" y1="66.52" y2="66.52" stroke="#444444" stroke-width="0.6"/>
<line x1="220.11" x2="220.11" y1="74.92" y2="82.58" stroke="#444444" stroke-width="0.6"/>
<line x1="217.5" x2="222.73" y1="66.52" y2="66.52" stroke="#444444" stroke-width="0.6"/>
<line x1="217.5" x2="222.73" y1="82.58" y2="82.58" stroke="#444444" stroke-width="0.6"/>
<rect x="214.88" y="66.52" width="10.46" height="8.39" fill="#477ca8" stroke="#444444" stroke-width="0.6"/>
<line x1="214.88" x2="225.34" y1="69.44" y2="69.44" stroke="#444444" stroke-width="0.6"/>
<text transform="translate(220.11,124.83) rotate(-26)" font-family="Liberation Sans, sans-serif" font-size="3.6" text-anchor="middle" dy="0.36em" fill="#262626" class="lb2">extraTrees_py</text>
<line x1="233.19" x2="233.19" y1="58.13" y2="54.84" stroke="#444444" stroke-width="0.6"/>
<line x1="233.19" x2="233.19" y1="67.62" y2="70.9" stroke="#444444" stroke-width="0.6"/>
<line x1="230.57" x2="235.8" y1="54.84" y2="54.84" stroke="#444444" stroke-width="0.6"/>
<line x1="230.57" x2="235.8" y1="70.9" y2="70.9" stroke="#444444" stroke-width="0.6"/>
<rect x="227.96" y="58.13" width="10.46" height="9.49" fill="#59a257" stroke="#444444" stroke-width="0.6"/>
<line x1="227.96" x2="238.42" y1="62.87" y2="62.87" stroke="#444444" stroke-width="0.6"/>
<text transform="translate(233.19,122.23) rotate(-26)" font-family="Liberation Sans, sans-serif" font-size="3.6" text-anchor="middle" dy="0.36em" fill="#262626" class="lb2">GB_py</text>
<line x1="246.26" x2="246.26" y1="63.23" y2="62.14" stroke="#444444" stroke-width="0.6"/>
<line x1="246.26" x2="246.26" y1="65.42" y2="63.6" stroke="#444444" stroke-width="0.6"/>
<line x1="243.65" x2="248.88" y1="62.14" y2="62.14" stroke="#444444" stroke-width="0.6"/>
<line x1="243.65" x2="248.88" y1="63.6" y2="63.6" stroke="#444444" stroke-width="0.6"/>
<rect x="241.03" y="63.23" width="10.46" height="2.19" fill="#905998" stroke="#444444" stroke-width="0.6"/>
<line x1="241.03" x2="251.49" y1="63.6" y2="63.6" stroke="#444444" stroke-width="0.6"/>
<text transform="translate(246.26,124.33) rotate(-26)" font-family="Liberation Sans, sans-serif" font-size="3.6" text-anchor="middle" dy="0.36em" fill="#262626" class="lb2">adaboost_py</text>
<line x1="259.34" x2="259.34" y1="57.4" y2="56.3" stroke="#444444" stroke-width="0.6"/>
<line x1="259.34" x2="259.34" y1="65.79" y2="67.98" stroke="#444444" stroke-width="0.6"/>
<line x1="256.72" x2="261.95" y1="56.3" y2="56.3" stroke="#444444" stroke-width="0.6"/>
<line x1="256.72" x2="261.95" y1="67.98" y2="67.98" stroke="#444444" stroke-width="0.6"/>
<rect x="254.11" y="57.4" width="10.46" height="8.4" fill="#df7f20" stroke="#444444" stroke-width="0.6"/>
<line x1="254.11" x2="264.57" y1="61.41" y2="61.41" stroke="#444444" stroke-width="0.6"/>
<text transform="translate(259.34,123.98) rotate(-26)" font-family="Liberation Sans, sans-serif" font-size="3.6" text-anchor="middle" dy="0.36em" fill="#262626" class="lb2">Xgboost_py</text>
<line x1="272.41" x2="272.41" y1="67.98" y2="67.98" stroke="#444444" stroke-width="0.6"/>
<line x1="272.41" x2="272.41" y1="70.53" y2="67.98" stroke="#444444" stroke-width="0.6"/>
<line x1="269.8" x2="275.03" y1="67.98" y2="67.98" stroke="#444444" stroke-width="0.6"/>
<line x1="269.8" x2="275.03" y1="67.98" y2="67.98" stroke="#444444" stroke-width="0.6"/>
<rect x="267.18" y="67.98" width="10.46" height="2.55" fill="#e6e64c" stroke="#444444" stroke-width="0.6"/>
<line x1="267.18" x2="277.64" y1="67.98" y2="67.98" stroke="#444444" stroke-width="0.6"/>
<text transform="translate(272.41,122.36) rotate(-26)" font-family="Liberation Sans, sans-serif" font-size="3.6" text-anchor="middle" dy="0.36em" fill="#262626" class="lb2">mlp_py</text>
<line x1="285.49" x2="285.49" y1="67.98" y2="67.98" stroke="#444444" stroke-width="0.6"/>
<line x1="285.49" x2="285.49" y1="77.4" y2="79.66" stroke="#444444" stroke-width="0.6"/>
<line x1="282.87" x2="288.1" y1="67.98" y2="67.98" stroke="#444444" stroke-width="0.6"/>
<line x1="282.87" x2="288.1" y1="79.66" y2="79.66" stroke="#444444" stroke-width="0.6"/>
<rect x="280.26" y="67.98" width="10.46" height="9.42" fill="#965a38" stroke="#444444" stroke-width="0.6"/>
<line x1="280.26" x2="290.72" y1="73.09" y2="73.09" stroke="#444444" stroke-width="0.6"/>
<text transform="translate(285.49,123.15) rotate(-26)" font-family="Liberation Sans, sans-serif" font-size="3.6" text-anchor="middle" dy="0.36em" fill="#262626" class="lb2">LASSO_r</text>
<line x1="298.56" x2="298.56" y1="58.49" y2="56.3" stroke="#444444" stroke-width="0.6"/>
<line x1="298.56" x2="298.56" y1="60.68" y2="59.22" stroke="#444444" stroke-width="0.6"/>
<line x1="295.95" x2="301.18" y1="56.3" y2="56.3" stroke="#444444" stroke-width="0.6"/>
<line x1="295.95" x2="301.18" y1="59.22" y2="59.22" stroke="#444444" stroke-width="0.6"/>
<rect x="293.33" y="58.49" width="10.46" height="2.19" fill="#e890be" stroke="#444444" stroke-width="0.6"/>
<line x1="293.33" x2="303.79" y1="59.22" y2="59.22" stroke="#444444" stroke-width="0.6"/>
<text transform="translate(298.56,122.27) rotate(-26)" font-family="Liberation Sans, sans-serif" font-size="3.6" text-anchor="middle" dy="0.36em" fill="#262626" class="lb2">ridge_r</text>
<line x1="311.64" x2="311.64" y1="62.87" y2="56.3" stroke="#444444" stroke-width="0.6"/>
<line x1="311.64" x2="311.64" y1="70.53" y2="78.2" stroke="#444444" stroke-width="0.6"/>
<line x1="309.02" x2="314.25" y1="56.3" y2="56.3" stroke="#444444" stroke-width="0.6"/>
<line x1="309.02" x2="314.25" y1="78.2" y2="78.2" stroke="#444444" stroke-width="0.6"/>
<rect x="306.41" y="62.87" width="10.46" height="7.66" fill="#999999" stroke="#444444" stroke-width="0.6"/>
<line x1="306.41" x2="316.87" y1="66.52" y2="66.52" stroke="#444444" stroke-width="0.6"/>
<text transform="translate(311.64,123.85) rotate(-26)" font-family="Liberation Sans, sans-serif" font-size="3.6" text-anchor="middle" dy="0.36em" fill="#262626" class="lb2">elasticnet_r</text>
<line x1="324.71" x2="324.71" y1="59.59" y2="56.3" stroke="#444444" stroke-width="0.6"/>
<line x1="324.71" x2="324.71" y1="62.87" y2="65.06" stroke="#444444" stroke-width="0.6"/>
<line x1="322.1" x2="327.33" y1="56.3" y2="56.3" stroke="#444444" stroke-width="0.6"/>
<line x1="322.1" x2="327.33" y1="65.06" y2="65.06" stroke="#444444" stroke-width="0.6"/>
<rect x="319.48" y="59.59" width="10.46" height="3.28" fill="#cb3335" stroke="#444444" stroke-width="0.6"/>
<line x1="319.48" x2="329.94" y1="61.41" y2="61.41" stroke="#444444" stroke-width="0.6"/>
<text transform="translate(324.71,123.23) rotate(-26)" font-family="Liberation Sans, sans-serif" font-size="3.6" text-anchor="middle" dy="0.36em" fill="#262626" class="lb2">BayesA_r</text>
<line x1="337.79" x2="337.79" y1="60.68" y2="62.14" stroke="#444444" stroke-width="0.6"/>
<line x1="337.79" x2="337.79" y1="62.87" y2="65.06" stroke="#444444" stroke-width="0.6"/>
<line x1="335.17" x2="340.4" y1="62.14" y2="62.14" stroke="#444444" stroke-width="0.6"/>
<line x1="335.17" x2="340.4" y1="65.06" y2="65.06" stroke="#444444" stroke-width="0.6"/>
<rect x="332.56" y="60.68" width="10.46" height="2.19" fill="#477ca8" stroke="#444444" stroke-width="0.6"/>
<line x1="332.56" x2="343.02" y1="62.14" y2="62.14" stroke="#444444" stroke-width="0.6"/>
<text transform="translate(337.79,122.18) rotate(-26)" font-family="Liberation Sans, sans-serif" font-size="3.6" text-anchor="middle" dy="0.36em" fill="#262626" class="lb2">BRR_r</text>
<line x1="350.86" x2="350.86" y1="61.04" y2="57.76" stroke="#444444" stroke-width="0.6"/>
<line x1="350.86" x2="350.86" y1="64.33" y2="66.52" stroke="#444444" stroke-width="0.6"/>
<line x1="348.25" x2="353.48" y1="57.76" y2="57.76" stroke="#444444" stroke-width="0.6"/>
<line x1="348.25" x2="353.48" y1="66.52" y2="66.52" stroke="#444444" stroke-width="0.6"/>
<rect x="345.63" y="61.04" width="10.46" height="3.29" fill="#59a257" stroke="#444444" stroke-width="0.6"/>
<line x1="345.63" x2="356.09" y1="62.87" y2="62.87" stroke="#444444" stroke-width="0.6"/>
<text transform="translate(350.86,121.48) rotate(-26)" font-family="Liberation Sans, sans-serif" font-size="3.6" text-anchor="middle" dy="0.36em" fill="#262626" class="lb2">BL_r</text>
<circle cx="204.2" cy="62.3" r="0.95" fill="#f5a300"/>
<circle cx="206.7" cy="62.3" r="0.95" fill="#f5a300"/>
<circle cx="205.1" cy="63.5" r="0.95" fill="#f5a300"/>
<circle cx="209.2" cy="67.9" r="0.95" fill="#f5a300"/>
<circle cx="218.3" cy="66.5" r="0.95" fill="#f5a300"/>
<circle cx="222.6" cy="72.5" r="0.95" fill="#f5a300"/>
<circle cx="218.5" cy="82.6" r="0.95" fill="#f5a300"/>
<circle cx="220.5" cy="66.5" r="0.95" fill="#f5a300"/>
<circle cx="230.3" cy="54.7" r="0.95" fill="#f5a300"/>
<circle cx="233.7" cy="59.3" r="0.95" fill="#f5a300"/>
<circle cx="235.8" cy="66.3" r="0.95" fill="#f5a300"/>
<circle cx="231.4" cy="70.6" r="0.95" fill="#f5a300"/>
<circle cx="246.5" cy="62.6" r="0.95" fill="#f5a300"/>
<circle cx="248" cy="70.6" r="0.95" fill="#f5a300"/>
<circle cx="244.5" cy="63.5" r="0.95" fill="#f5a300"/>
<circle cx="258.5" cy="56.5" r="0.95" fill="#f5a300"/>
<circle cx="258.5" cy="64.6" r="0.95" fill="#f5a300"/>
<circle cx="260.9" cy="67.9" r="0.95" fill="#f5a300"/>
<circle cx="269.9" cy="67.9" r="0.95" fill="#f5a300"/>
<circle cx="271.4" cy="78" r="0.95" fill="#f5a300"/>
<circle cx="276.5" cy="69.4" r="0.95" fill="#f5a300"/>
<circle cx="285.7" cy="67.6" r="0.95" fill="#f5a300"/>
<circle cx="285.2" cy="76.5" r="0.95" fill="#f5a300"/>
<circle cx="284.3" cy="79.2" r="0.95" fill="#f5a300"/>
<circle cx="301.1" cy="56.5" r="0.95" fill="#f5a300"/>
<circle cx="294.9" cy="59.5" r="0.95" fill="#f5a300"/>
<circle cx="297.4" cy="59.5" r="0.95" fill="#f5a300"/>
<circle cx="296.1" cy="64.8" r="0.95" fill="#f5a300"/>
<circle cx="311.6" cy="56.5" r="0.95" fill="#f5a300"/>
<circle cx="312.5" cy="64.8" r="0.95" fill="#f5a300"/>
<circle cx="308.8" cy="67.9" r="0.95" fill="#f5a300"/>
<circle cx="308.5" cy="78" r="0.95" fill="#f5a300"/>
<circle cx="321.7" cy="56.3" r="0.95" fill="#f5a300"/>
<circle cx="321.7" cy="60.9" r="0.95" fill="#f5a300"/>
<circle cx="322.5" cy="61.9" r="0.95" fill="#f5a300"/>
<circle cx="322.3" cy="65.1" r="0.95" fill="#f5a300"/>
<circle cx="335.4" cy="56.3" r="0.95" fill="#f5a300"/>
<circle cx="338.2" cy="62.3" r="0.95" fill="#f5a300"/>
<circle cx="337.7" cy="65.1" r="0.95" fill="#f5a300"/>
<circle cx="353.9" cy="56.3" r="0.95" fill="#f5a300"/>
<circle cx="352.5" cy="62.3" r="0.95" fill="#f5a300"/>
<circle cx="350" cy="63.7" r="0.95" fill="#f5a300"/>
<circle cx="347.9" cy="66.5" r="0.95" fill="#f5a300"/>
<text transform="translate(188.09,64.05) rotate(-90)" font-family="Liberation Sans, sans-serif" font-size="4.5" font-weight="bold" text-anchor="middle" fill="#1a1a1a" stroke="#1a1a1a" stroke-width="0.35">r</text>
<text transform="translate(278.95,135.94) scale(1,1.0)" font-family="Liberation Sans, sans-serif" font-size="4.0" text-anchor="middle" fill="#262626" class="lb2">Model</text>
<rect x="221.5" y="151.5" width="120.5" height="8.2" fill="#d3d3d3"/>
<text transform="translate(281.75,158.06) scale(1,1.12)" font-family="Liberation Serif, serif" font-size="5.58" text-anchor="middle" fill="#000" class="tt">E. Correlation distribution of the models of dataset2</text>
<text transform="translate(198.3,260.33) scale(1,1.0)" font-family="Liberation Sans, sans-serif" font-size="3.7" text-anchor="end" fill="#262626" class="lb2">0.1</text>
<line x1="201.5" x2="358.6" y1="244.42" y2="244.42" stroke="#e6e6e6" stroke-width="0.8"/>
<text transform="translate(198.3,245.75) scale(1,1.0)" font-family="Liberation Sans, sans-serif" font-size="3.7" text-anchor="end" fill="#262626" class="lb2">0.2</text>
<line x1="201.5" x2="358.6" y1="229.83" y2="229.83" stroke="#e6e6e6" stroke-width="0.8"/>
<text transform="translate(198.3,231.16) scale(1,1.0)" font-family="Liberation Sans, sans-serif" font-size="3.7" text-anchor="end" fill="#262626" class="lb2">0.3</text>
<line x1="201.5" x2="358.6" y1="215.25" y2="215.25" stroke="#e6e6e6" stroke-width="0.8"/>
<text transform="translate(198.3,216.58) scale(1,1.0)" font-family="Liberation Sans, sans-serif" font-size="3.7" text-anchor="end" fill="#262626" class="lb2">0.4</text>
<line x1="201.5" x2="358.6" y1="200.66" y2="200.66" stroke="#e6e6e6" stroke-width="0.8"/>
<text transform="translate(198.3,201.99) scale(1,1.0)" font-family="Liberation Sans, sans-serif" font-size="3.7" text-anchor="end" fill="#262626" class="lb2">0.5</text>
<line x1="201.5" x2="358.6" y1="186.08" y2="186.08" stroke="#e6e6e6" stroke-width="0.8"/>
<text transform="translate(198.3,187.41) scale(1,1.0)" font-family="Liberation Sans, sans-serif" font-size="3.7" text-anchor="end" fill="#262626" class="lb2">0.6</text>
<line x1="201.5" x2="358.6" y1="171.49" y2="171.49" stroke="#e6e6e6" stroke-width="0.8"/>
<text transform="translate(198.3,172.82) scale(1,1.0)" font-family="Liberation Sans, sans-serif" font-size="3.7" text-anchor="end" fill="#262626" class="lb2">0.7</text>
<rect x="201.5" y="164.2" width="157.1" height="94.8" fill="none" stroke="#d9d9d9" stroke-width="0.8"/>
<line x1="208.05" x2="208.05" y1="175.5" y2="174.41" stroke="#444444" stroke-width="0.6"/>
<line x1="208.05" x2="208.05" y1="184.62" y2="188.99" stroke="#444444" stroke-width="0.6"/>
<line x1="205.43" x2="210.66" y1="174.41" y2="174.41" stroke="#444444" stroke-width="0.6"/>
<line x1="205.43" x2="210.66" y1="188.99" y2="188.99" stroke="#444444" stroke-width="0.6"/>
<rect x="202.81" y="175.5" width="10.47" height="9.12" fill="#cb3335" stroke="#444444" stroke-width="0.6"/>
<line x1="202.81" x2="213.28" y1="180.24" y2="180.24" stroke="#444444" stroke-width="0.6"/>
<text transform="translate(208.05,266.44) rotate(-26)" font-family="Liberation Sans, sans-serif" font-size="3.6" text-anchor="middle" dy="0.36em" fill="#262626" class="lb2">RF_py</text>
<line x1="221.14" x2="221.14" y1="175.87" y2="175.87" stroke="#444444" stroke-width="0.6"/>
<line x1="221.14" x2="221.14" y1="195.56" y2="202.12" stroke="#444444" stroke-width="0.6"/>
<line x1="218.52" x2="223.76" y1="175.87" y2="175.87" stroke="#444444" stroke-width="0.6"/>
<line x1="218.52" x2="223.76" y1="202.12" y2="202.12" stroke="#444444" stroke-width="0.6"/>
<rect x="215.9" y="175.87" width="10.47" height="19.69" fill="#477ca8" stroke="#444444" stroke-width="0.6"/>
<line x1="215.9" x2="226.37" y1="184.62" y2="184.62" stroke="#444444" stroke-width="0.6"/>
<text transform="translate(221.14,269.13) rotate(-26)" font-family="Liberation Sans, sans-serif" font-size="3.6" text-anchor="middle" dy="0.36em" fill="#262626" class="lb2">extraTrees_py</text>
<line x1="234.23" x2="234.23" y1="179.51" y2="183.16" stroke="#444444" stroke-width="0.6"/>
<line x1="234.23" x2="234.23" y1="185.71" y2="188.99" stroke="#444444" stroke-width="0.6"/>
<line x1="231.61" x2="236.85" y1="183.16" y2="183.16" stroke="#444444" stroke-width="0.6"/>
<line x1="231.61" x2="236.85" y1="188.99" y2="188.99" stroke="#444444" stroke-width="0.6"/>
<rect x="228.99" y="179.51" width="10.47" height="6.2" fill="#59a257" stroke="#444444" stroke-width="0.6"/>
<line x1="228.99" x2="239.47" y1="183.89" y2="183.89" stroke="#444444" stroke-width="0.6"/>
<text transform="translate(234.23,266.53) rotate(-26)" font-family="Liberation Sans, sans-serif" font-size="3.6" text-anchor="middle" dy="0.36em" fill="#262626" class="lb2">GB_py</text>
<line x1="247.32" x2="247.32" y1="187.54" y2="187.54" stroke="#444444" stroke-width="0.6"/>
<line x1="247.32" x2="247.32" y1="197.02" y2="199.2" stroke="#444444" stroke-width="0.6"/>
<line x1="244.7" x2="249.94" y1="187.54" y2="187.54" stroke="#444444" stroke-width="0.6"/>
<line x1="244.7" x2="249.94" y1="199.2" y2="199.2" stroke="#444444" stroke-width="0.6"/>
<rect x="242.08" y="187.54" width="10.47" height="9.48" fill="#905998" stroke="#444444" stroke-width="0.6"/>
<line x1="242.08" x2="252.56" y1="191.91" y2="191.91" stroke="#444444" stroke-width="0.6"/>
<text transform="translate(247.32,268.63) rotate(-26)" font-family="Liberation Sans, sans-serif" font-size="3.6" text-anchor="middle" dy="0.36em" fill="#262626" class="lb2">adaboost_py</text>
<line x1="260.41" x2="260.41" y1="176.96" y2="175.87" stroke="#444444" stroke-width="0.6"/>
<line x1="260.41" x2="260.41" y1="188.99" y2="193.37" stroke="#444444" stroke-width="0.6"/>
<line x1="257.79" x2="263.03" y1="175.87" y2="175.87" stroke="#444444" stroke-width="0.6"/>
<line x1="257.79" x2="263.03" y1="193.37" y2="193.37" stroke="#444444" stroke-width="0.6"/>
<rect x="255.18" y="176.96" width="10.47" height="12.03" fill="#df7f20" stroke="#444444" stroke-width="0.6"/>
<line x1="255.18" x2="265.65" y1="182.43" y2="182.43" stroke="#444444" stroke-width="0.6"/>
<text transform="translate(260.41,268.28) rotate(-26)" font-family="Liberation Sans, sans-serif" font-size="3.6" text-anchor="middle" dy="0.36em" fill="#262626" class="lb2">Xgboost_py</text>
<line x1="273.5" x2="273.5" y1="194.1" y2="196.29" stroke="#444444" stroke-width="0.6"/>
<line x1="273.5" x2="273.5" y1="197.45" y2="197.74" stroke="#444444" stroke-width="0.6"/>
<line x1="270.89" x2="276.12" y1="196.29" y2="196.29" stroke="#444444" stroke-width="0.6"/>
<line x1="270.89" x2="276.12" y1="197.74" y2="197.74" stroke="#444444" stroke-width="0.6"/>
<rect x="268.27" y="194.1" width="10.47" height="3.35" fill="#e6e64c" stroke="#444444" stroke-width="0.6"/>
<line x1="268.27" x2="278.74" y1="196.29" y2="196.29" stroke="#444444" stroke-width="0.6"/>
<text transform="translate(273.50,266.66) rotate(-26)" font-family="Liberation Sans, sans-serif" font-size="3.6" text-anchor="middle" dy="0.36em" fill="#262626" class="lb2">mlp_py</text>
<line x1="286.6" x2="286.6" y1="189.2" y2="188.99" stroke="#444444" stroke-width="0.6"/>
<line x1="286.6" x2="286.6" y1="193.37" y2="193.37" stroke="#444444" stroke-width="0.6"/>
<line x1="283.98" x2="289.21" y1="188.99" y2="188.99" stroke="#444444" stroke-width="0.6"/>
<line x1="283.98" x2="289.21" y1="193.37" y2="193.37" stroke="#444444" stroke-width="0.6"/>
<rect x="281.36" y="189.2" width="10.47" height="4.17" fill="#965a38" stroke="#444444" stroke-width="0.6"/>
<line x1="281.36" x2="291.83" y1="191.91" y2="191.91" stroke="#444444" stroke-width="0.6"/>
<text transform="translate(286.60,267.45) rotate(-26)" font-family="Liberation Sans, sans-serif" font-size="3.6" text-anchor="middle" dy="0.36em" fill="#262626" class="lb2">LASSO_r</text>
<line x1="299.69" x2="299.69" y1="185.35" y2="178.78" stroke="#444444" stroke-width="0.6"/>
<line x1="299.69" x2="299.69" y1="190.82" y2="191.91" stroke="#444444" stroke-width="0.6"/>
<line x1="297.07" x2="302.31" y1="178.78" y2="178.78" stroke="#444444" stroke-width="0.6"/>
<line x1="297.07" x2="302.31" y1="191.91" y2="191.91" stroke="#444444" stroke-width="0.6"/>
<rect x="294.45" y="185.35" width="10.47" height="5.47" fill="#e890be" stroke="#444444" stroke-width="0.6"/>
<line x1="294.45" x2="304.92" y1="188.99" y2="188.99" stroke="#444444" stroke-width="0.6"/>
<text transform="translate(299.69,266.57) rotate(-26)" font-family="Liberation Sans, sans-serif" font-size="3.6" text-anchor="middle" dy="0.36em" fill="#262626" class="lb2">ridge_r</text>
<line x1="312.78" x2="312.78" y1="186.44" y2="188.99" stroke="#444444" stroke-width="0.6"/>
<line x1="312.78" x2="312.78" y1="191.55" y2="194.83" stroke="#444444" stroke-width="0.6"/>
<line x1="310.16" x2="315.4" y1="188.99" y2="188.99" stroke="#444444" stroke-width="0.6"/>
<line x1="310.16" x2="315.4" y1="194.83" y2="194.83" stroke="#444444" stroke-width="0.6"/>
<rect x="307.54" y="186.44" width="10.47" height="5.1" fill="#999999" stroke="#444444" stroke-width="0.6"/>
<line x1="307.54" x2="318.02" y1="189.72" y2="189.72" stroke="#444444" stroke-width="0.6"/>
<text transform="translate(312.78,268.15) rotate(-26)" font-family="Liberation Sans, sans-serif" font-size="3.6" text-anchor="middle" dy="0.36em" fill="#262626" class="lb2">elasticnet_r</text>
<line x1="325.87" x2="325.87" y1="184.98" y2="181.7" stroke="#444444" stroke-width="0.6"/>
<line x1="325.87" x2="325.87" y1="191.91" y2="191.91" stroke="#444444" stroke-width="0.6"/>
<line x1="323.25" x2="328.49" y1="181.7" y2="181.7" stroke="#444444" stroke-width="0.6"/>
<line x1="323.25" x2="328.49" y1="191.91" y2="191.91" stroke="#444444" stroke-width="0.6"/>
<rect x="320.63" y="184.98" width="10.47" height="6.93" fill="#cb3335" stroke="#444444" stroke-width="0.6"/>
<line x1="320.63" x2="331.11" y1="188.99" y2="188.99" stroke="#444444" stroke-width="0.6"/>
<text transform="translate(325.87,267.53) rotate(-26)" font-family="Liberation Sans, sans-serif" font-size="3.6" text-anchor="middle" dy="0.36em" fill="#262626" class="lb2">BayesA_r</text>
<line x1="338.96" x2="338.96" y1="188.26" y2="190.45" stroke="#444444" stroke-width="0.6"/>
<line x1="338.96" x2="338.96" y1="192.28" y2="193.37" stroke="#444444" stroke-width="0.6"/>
<line x1="336.34" x2="341.58" y1="190.45" y2="190.45" stroke="#444444" stroke-width="0.6"/>
<line x1="336.34" x2="341.58" y1="193.37" y2="193.37" stroke="#444444" stroke-width="0.6"/>
<rect x="333.73" y="188.26" width="10.47" height="4.01" fill="#477ca8" stroke="#444444" stroke-width="0.6"/>
<line x1="333.73" x2="344.2" y1="191.18" y2="191.18" stroke="#444444" stroke-width="0.6"/>
<text transform="translate(338.96,266.48) rotate(-26)" font-family="Liberation Sans, sans-serif" font-size="3.6" text-anchor="middle" dy="0.36em" fill="#262626" class="lb2">BRR_r</text>
<line x1="352.05" x2="352.05" y1="184.98" y2="181.7" stroke="#444444" stroke-width="0.6"/>
<line x1="352.05" x2="352.05" y1="191.91" y2="191.91" stroke="#444444" stroke-width="0.6"/>
<line x1="349.44" x2="354.67" y1="181.7" y2="181.7" stroke="#444444" stroke-width="0.6"/>
<line x1="349.44" x2="354.67" y1="191.91" y2="191.91" stroke="#444444" stroke-width="0.6"/>
<rect x="346.82" y="184.98" width="10.47" height="6.93" fill="#59a257" stroke="#444444" stroke-width="0.6"/>
<line x1="346.82" x2="357.29" y1="188.99" y2="188.99" stroke="#444444" stroke-width="0.6"/>
<text transform="translate(352.05,265.78) rotate(-26)" font-family="Liberation Sans, sans-serif" font-size="3.6" text-anchor="middle" dy="0.36em" fill="#262626" class="lb2">BL_r</text>
<circle cx="207.9" cy="173.8" r="0.95" fill="#f5a300"/>
<circle cx="211.3" cy="175.3" r="0.95" fill="#f5a300"/>
<circle cx="210.4" cy="183" r="0.95" fill="#f5a300"/>
<circle cx="211.2" cy="189" r="0.95" fill="#f5a300"/>
<circle cx="221.1" cy="175.6" r="0.95" fill="#f5a300"/>
<circle cx="224.3" cy="175.6" r="0.95" fill="#f5a300"/>
<circle cx="222.7" cy="193.2" r="0.95" fill="#f5a300"/>
<circle cx="220.9" cy="202.1" r="0.95" fill="#f5a300"/>
<circle cx="231.3" cy="168.5" r="0.95" fill="#f5a300"/>
<circle cx="231.3" cy="183" r="0.95" fill="#f5a300"/>
<circle cx="236.1" cy="184.4" r="0.95" fill="#f5a300"/>
<circle cx="232.9" cy="189" r="0.95" fill="#f5a300"/>
<circle cx="245" cy="187.2" r="0.95" fill="#f5a300"/>
<circle cx="245.7" cy="196.4" r="0.95" fill="#f5a300"/>
<circle cx="245.7" cy="199" r="0.95" fill="#f5a300"/>
<circle cx="257.9" cy="175.6" r="0.95" fill="#f5a300"/>
<circle cx="258.9" cy="176.5" r="0.95" fill="#f5a300"/>
<circle cx="260.7" cy="187.2" r="0.95" fill="#f5a300"/>
<circle cx="258.6" cy="193.2" r="0.95" fill="#f5a300"/>
<circle cx="271.5" cy="187.4" r="0.95" fill="#f5a300"/>
<circle cx="273.2" cy="197.5" r="0.95" fill="#f5a300"/>
<circle cx="270.9" cy="194.7" r="0.95" fill="#f5a300"/>
<circle cx="277.5" cy="195" r="0.95" fill="#f5a300"/>
<circle cx="283.9" cy="189.2" r="0.95" fill="#f5a300"/>
<circle cx="288.5" cy="189.9" r="0.95" fill="#f5a300"/>
<circle cx="283.9" cy="192.3" r="0.95" fill="#f5a300"/>
<circle cx="288.5" cy="192.7" r="0.95" fill="#f5a300"/>
<circle cx="301.2" cy="178.4" r="0.95" fill="#f5a300"/>
<circle cx="302" cy="187.4" r="0.95" fill="#f5a300"/>
<circle cx="297.8" cy="190.4" r="0.95" fill="#f5a300"/>
<circle cx="299.2" cy="191.8" r="0.95" fill="#f5a300"/>
<circle cx="313.2" cy="178.7" r="0.95" fill="#f5a300"/>
<circle cx="311.6" cy="190.1" r="0.95" fill="#f5a300"/>
<circle cx="315.6" cy="188.8" r="0.95" fill="#f5a300"/>
<circle cx="312.1" cy="194.7" r="0.95" fill="#f5a300"/>
<circle cx="326.9" cy="181.6" r="0.95" fill="#f5a300"/>
<circle cx="323.6" cy="186.4" r="0.95" fill="#f5a300"/>
<circle cx="327.3" cy="191.6" r="0.95" fill="#f5a300"/>
<circle cx="337.4" cy="181.4" r="0.95" fill="#f5a300"/>
<circle cx="340.2" cy="190.1" r="0.95" fill="#f5a300"/>
<circle cx="342.3" cy="192.5" r="0.95" fill="#f5a300"/>
<circle cx="351.1" cy="181.4" r="0.95" fill="#f5a300"/>
<circle cx="352.8" cy="186.1" r="0.95" fill="#f5a300"/>
<circle cx="352.5" cy="191.8" r="0.95" fill="#f5a300"/>
<text transform="translate(190.39,208.65) rotate(-90)" font-family="Liberation Sans, sans-serif" font-size="4.5" font-weight="bold" text-anchor="middle" fill="#1a1a1a" stroke="#1a1a1a" stroke-width="0.35">r</text>
<text transform="translate(280.05,280.24) scale(1,1.0)" font-family="Liberation Sans, sans-serif" font-size="4.0" text-anchor="middle" fill="#262626" class="lb2">Model</text>
<rect x="226.1" y="296.2" width="120.7" height="8.4" fill="#d3d3d3"/>
<text transform="translate(286.45,302.86) scale(1,1.12)" font-family="Liberation Serif, serif" font-size="5.56" text-anchor="middle" fill="#000" class="tt">H. Correlation distribution of the models of dataset3</text>
<text transform="translate(198.4,403.76) scale(1,1.0)" font-family="Liberation Sans, sans-serif" font-size="3.5" text-anchor="end" fill="#262626" class="lb2">0.1</text>
<line x1="201.6" x2="359.9" y1="387.92" y2="387.92" stroke="#e6e6e6" stroke-width="0.8"/>
<text transform="translate(198.4,389.18) scale(1,1.0)" font-family="Liberation Sans, sans-serif" font-size="3.5" text-anchor="end" fill="#262626" class="lb2">0.2</text>
<line x1="201.6" x2="359.9" y1="373.33" y2="373.33" stroke="#e6e6e6" stroke-width="0.8"/>
<text transform="translate(198.4,374.59) scale(1,1.0)" font-family="Liberation Sans, sans-serif" font-size="3.5" text-anchor="end" fill="#262626" class="lb2">0.3</text>
<line x1="201.6" x2="359.9" y1="358.75" y2="358.75" stroke="#e6e6e6" stroke-width="0.8"/>
<text transform="translate(198.4,360.01) scale(1,1.0)" font-family="Liberation Sans, sans-serif" font-size="3.5" text-anchor="end" fill="#262626" class="lb2">0.4</text>
<line x1="201.6" x2="359.9" y1="344.16" y2="344.16" stroke="#e6e6e6" stroke-width="0.8"/>
<text transform="translate(198.4,345.42) scale(1,1.0)" font-family="Liberation Sans, sans-serif" font-size="3.5" text-anchor="end" fill="#262626" class="lb2">0.5</text>
<line x1="201.6" x2="359.9" y1="329.58" y2="329.58" stroke="#e6e6e6" stroke-width="0.8"/>
<text transform="translate(198.4,330.84) scale(1,1.0)" font-family="Liberation Sans, sans-serif" font-size="3.5" text-anchor="end" fill="#262626" class="lb2">0.6</text>
<line x1="201.6" x2="359.9" y1="314.99" y2="314.99" stroke="#e6e6e6" stroke-width="0.8"/>
<text transform="translate(198.4,316.25) scale(1,1.0)" font-family="Liberation Sans, sans-serif" font-size="3.5" text-anchor="end" fill="#262626" class="lb2">0.7</text>
<rect x="201.6" y="307.7" width="158.3" height="94.8" fill="none" stroke="#d9d9d9" stroke-width="0.8"/>
<line x1="208.2" x2="208.2" y1="351.09" y2="350" stroke="#444444" stroke-width="0.6"/>
<line x1="208.2" x2="208.2" y1="356.56" y2="358.75" stroke="#444444" stroke-width="0.6"/>
<line x1="205.56" x2="210.83" y1="350" y2="350" stroke="#444444" stroke-width="0.6"/>
<line x1="205.56" x2="210.83" y1="358.75" y2="358.75" stroke="#444444" stroke-width="0.6"/>
<rect x="202.92" y="351.09" width="10.55" height="5.47" fill="#cb3335" stroke="#444444" stroke-width="0.6"/>
<line x1="202.92" x2="213.47" y1="353.64" y2="353.64" stroke="#444444" stroke-width="0.6"/>
<text transform="translate(208.20,409.94) rotate(-26)" font-family="Liberation Sans, sans-serif" font-size="3.6" text-anchor="middle" dy="0.36em" fill="#262626" class="lb2">RF_py</text>
<line x1="221.39" x2="221.39" y1="361.3" y2="360.2" stroke="#444444" stroke-width="0.6"/>
<line x1="221.39" x2="221.39" y1="364.94" y2="370.41" stroke="#444444" stroke-width="0.6"/>
<line x1="218.75" x2="224.03" y1="360.2" y2="360.2" stroke="#444444" stroke-width="0.6"/>
<line x1="218.75" x2="224.03" y1="370.41" y2="370.41" stroke="#444444" stroke-width="0.6"/>
<rect x="216.11" y="361.3" width="10.55" height="3.65" fill="#477ca8" stroke="#444444" stroke-width="0.6"/>
<line x1="216.11" x2="226.66" y1="362.39" y2="362.39" stroke="#444444" stroke-width="0.6"/>
<text transform="translate(221.39,412.63) rotate(-26)" font-family="Liberation Sans, sans-serif" font-size="3.6" text-anchor="middle" dy="0.36em" fill="#262626" class="lb2">extraTrees_py</text>
<line x1="234.58" x2="234.58" y1="352.18" y2="350" stroke="#444444" stroke-width="0.6"/>
<line x1="234.58" x2="234.58" y1="359.48" y2="355.83" stroke="#444444" stroke-width="0.6"/>
<line x1="231.94" x2="237.22" y1="350" y2="350" stroke="#444444" stroke-width="0.6"/>
<line x1="231.94" x2="237.22" y1="355.83" y2="355.83" stroke="#444444" stroke-width="0.6"/>
<rect x="229.3" y="352.18" width="10.55" height="7.29" fill="#59a257" stroke="#444444" stroke-width="0.6"/>
<line x1="229.3" x2="239.86" y1="354.37" y2="354.37" stroke="#444444" stroke-width="0.6"/>
<text transform="translate(234.58,410.03) rotate(-26)" font-family="Liberation Sans, sans-serif" font-size="3.6" text-anchor="middle" dy="0.36em" fill="#262626" class="lb2">GB_py</text>
<line x1="247.77" x2="247.77" y1="366.4" y2="368.96" stroke="#444444" stroke-width="0.6"/>
<line x1="247.77" x2="247.77" y1="370.41" y2="370.41" stroke="#444444" stroke-width="0.6"/>
<line x1="245.13" x2="250.41" y1="368.96" y2="368.96" stroke="#444444" stroke-width="0.6"/>
<line x1="245.13" x2="250.41" y1="370.41" y2="370.41" stroke="#444444" stroke-width="0.6"/>
<rect x="242.49" y="366.4" width="10.55" height="4.01" fill="#905998" stroke="#444444" stroke-width="0.6"/>
<line x1="242.49" x2="253.05" y1="369.68" y2="369.68" stroke="#444444" stroke-width="0.6"/>
<text transform="translate(247.77,412.13) rotate(-26)" font-family="Liberation Sans, sans-serif" font-size="3.6" text-anchor="middle" dy="0.36em" fill="#262626" class="lb2">adaboost_py</text>
<line x1="260.96" x2="260.96" y1="362.03" y2="358.75" stroke="#444444" stroke-width="0.6"/>
<line x1="260.96" x2="260.96" y1="368.96" y2="373.33" stroke="#444444" stroke-width="0.6"/>
<line x1="258.32" x2="263.6" y1="358.75" y2="358.75" stroke="#444444" stroke-width="0.6"/>
<line x1="258.32" x2="263.6" y1="373.33" y2="373.33" stroke="#444444" stroke-width="0.6"/>
<rect x="255.69" y="362.03" width="10.55" height="6.93" fill="#df7f20" stroke="#444444" stroke-width="0.6"/>
<line x1="255.69" x2="266.24" y1="365.31" y2="365.31" stroke="#444444" stroke-width="0.6"/>
<text transform="translate(260.96,411.78) rotate(-26)" font-family="Liberation Sans, sans-serif" font-size="3.6" text-anchor="middle" dy="0.36em" fill="#262626" class="lb2">Xgboost_py</text>
<line x1="274.15" x2="274.15" y1="359.11" y2="351.45" stroke="#444444" stroke-width="0.6"/>
<line x1="274.15" x2="274.15" y1="367.13" y2="379.16" stroke="#444444" stroke-width="0.6"/>
<line x1="271.52" x2="276.79" y1="351.45" y2="351.45" stroke="#444444" stroke-width="0.6"/>
<line x1="271.52" x2="276.79" y1="379.16" y2="379.16" stroke="#444444" stroke-width="0.6"/>
<rect x="268.88" y="359.11" width="10.55" height="8.02" fill="#e6e64c" stroke="#444444" stroke-width="0.6"/>
<line x1="268.88" x2="279.43" y1="362.39" y2="362.39" stroke="#444444" stroke-width="0.6"/>
<text transform="translate(274.15,410.16) rotate(-26)" font-family="Liberation Sans, sans-serif" font-size="3.6" text-anchor="middle" dy="0.36em" fill="#262626" class="lb2">mlp_py</text>
<line x1="287.35" x2="287.35" y1="367.13" y2="366.04" stroke="#444444" stroke-width="0.6"/>
<line x1="287.35" x2="287.35" y1="385.73" y2="387.92" stroke="#444444" stroke-width="0.6"/>
<line x1="284.71" x2="289.98" y1="366.04" y2="366.04" stroke="#444444" stroke-width="0.6"/>
<line x1="284.71" x2="289.98" y1="387.92" y2="387.92" stroke="#444444" stroke-width="0.6"/>
<rect x="282.07" y="367.13" width="10.55" height="18.6" fill="#965a38" stroke="#444444" stroke-width="0.6"/>
<line x1="282.07" x2="292.62" y1="376.25" y2="376.25" stroke="#444444" stroke-width="0.6"/>
<text transform="translate(287.35,410.95) rotate(-26)" font-family="Liberation Sans, sans-serif" font-size="3.6" text-anchor="middle" dy="0.36em" fill="#262626" class="lb2">LASSO_r</text>
<line x1="300.54" x2="300.54" y1="356.92" y2="355.83" stroke="#444444" stroke-width="0.6"/>
<line x1="300.54" x2="300.54" y1="358.38" y2="357.29" stroke="#444444" stroke-width="0.6"/>
<line x1="297.9" x2="303.18" y1="355.83" y2="355.83" stroke="#444444" stroke-width="0.6"/>
<line x1="297.9" x2="303.18" y1="357.29" y2="357.29" stroke="#444444" stroke-width="0.6"/>
<rect x="295.26" y="356.92" width="10.55" height="1.46" fill="#e890be" stroke="#444444" stroke-width="0.6"/>
<line x1="295.26" x2="305.81" y1="357.29" y2="357.29" stroke="#444444" stroke-width="0.6"/>
<text transform="translate(300.54,410.07) rotate(-26)" font-family="Liberation Sans, sans-serif" font-size="3.6" text-anchor="middle" dy="0.36em" fill="#262626" class="lb2">ridge_r</text>
<line x1="313.73" x2="313.73" y1="361.66" y2="357.29" stroke="#444444" stroke-width="0.6"/>
<line x1="313.73" x2="313.73" y1="371.87" y2="385" stroke="#444444" stroke-width="0.6"/>
<line x1="311.09" x2="316.37" y1="357.29" y2="357.29" stroke="#444444" stroke-width="0.6"/>
<line x1="311.09" x2="316.37" y1="385" y2="385" stroke="#444444" stroke-width="0.6"/>
<rect x="308.45" y="361.66" width="10.55" height="10.21" fill="#999999" stroke="#444444" stroke-width="0.6"/>
<line x1="308.45" x2="319.01" y1="365.31" y2="365.31" stroke="#444444" stroke-width="0.6"/>
<text transform="translate(313.73,411.65) rotate(-26)" font-family="Liberation Sans, sans-serif" font-size="3.6" text-anchor="middle" dy="0.36em" fill="#262626" class="lb2">elasticnet_r</text>
<line x1="326.92" x2="326.92" y1="355.1" y2="352.91" stroke="#444444" stroke-width="0.6"/>
<line x1="326.92" x2="326.92" y1="357.29" y2="357.29" stroke="#444444" stroke-width="0.6"/>
<line x1="324.28" x2="329.56" y1="352.91" y2="352.91" stroke="#444444" stroke-width="0.6"/>
<line x1="324.28" x2="329.56" y1="357.29" y2="357.29" stroke="#444444" stroke-width="0.6"/>
<rect x="321.64" y="355.1" width="10.55" height="2.19" fill="#cb3335" stroke="#444444" stroke-width="0.6"/>
<line x1="321.64" x2="332.2" y1="356.56" y2="356.56" stroke="#444444" stroke-width="0.6"/>
<text transform="translate(326.92,411.03) rotate(-26)" font-family="Liberation Sans, sans-serif" font-size="3.6" text-anchor="middle" dy="0.36em" fill="#262626" class="lb2">BayesA_r</text>
<line x1="340.11" x2="340.11" y1="353.64" y2="351.45" stroke="#444444" stroke-width="0.6"/>
<line x1="340.11" x2="340.11" y1="355.83" y2="355.83" stroke="#444444" stroke-width="0.6"/>
<line x1="337.47" x2="342.75" y1="351.45" y2="351.45" stroke="#444444" stroke-width="0.6"/>
<line x1="337.47" x2="342.75" y1="355.83" y2="355.83" stroke="#444444" stroke-width="0.6"/>
<rect x="334.84" y="353.64" width="10.55" height="2.19" fill="#477ca8" stroke="#444444" stroke-width="0.6"/>
<line x1="334.84" x2="345.39" y1="355.1" y2="355.1" stroke="#444444" stroke-width="0.6"/>
<text transform="translate(340.11,409.98) rotate(-26)" font-family="Liberation Sans, sans-serif" font-size="3.6" text-anchor="middle" dy="0.36em" fill="#262626" class="lb2">BRR_r</text>
<line x1="353.3" x2="353.3" y1="355.1" y2="352.91" stroke="#444444" stroke-width="0.6"/>
<line x1="353.3" x2="353.3" y1="357.29" y2="357.29" stroke="#444444" stroke-width="0.6"/>
<line x1="350.67" x2="355.94" y1="352.91" y2="352.91" stroke="#444444" stroke-width="0.6"/>
<line x1="350.67" x2="355.94" y1="357.29" y2="357.29" stroke="#444444" stroke-width="0.6"/>
<rect x="348.03" y="355.1" width="10.55" height="2.19" fill="#59a257" stroke="#444444" stroke-width="0.6"/>
<line x1="348.03" x2="358.58" y1="356.56" y2="356.56" stroke="#444444" stroke-width="0.6"/>
<text transform="translate(353.30,409.28) rotate(-26)" font-family="Liberation Sans, sans-serif" font-size="3.6" text-anchor="middle" dy="0.36em" fill="#262626" class="lb2">BL_r</text>
<circle cx="207.9" cy="350.1" r="0.95" fill="#f5a300"/>
<circle cx="208.2" cy="351.7" r="0.95" fill="#f5a300"/>
<circle cx="210.2" cy="355.9" r="0.95" fill="#f5a300"/>
<circle cx="210.7" cy="358.9" r="0.95" fill="#f5a300"/>
<circle cx="219.9" cy="360.5" r="0.95" fill="#f5a300"/>
<circle cx="222.4" cy="361.8" r="0.95" fill="#f5a300"/>
<circle cx="219" cy="363.5" r="0.95" fill="#f5a300"/>
<circle cx="218.7" cy="370.4" r="0.95" fill="#f5a300"/>
<circle cx="234.4" cy="350.1" r="0.95" fill="#f5a300"/>
<circle cx="237.5" cy="353.1" r="0.95" fill="#f5a300"/>
<circle cx="235.4" cy="356.1" r="0.95" fill="#f5a300"/>
<circle cx="232.6" cy="370.4" r="0.95" fill="#f5a300"/>
<circle cx="245.7" cy="358.9" r="0.95" fill="#f5a300"/>
<circle cx="251" cy="368.8" r="0.95" fill="#f5a300"/>
<circle cx="248.7" cy="370.7" r="0.95" fill="#f5a300"/>
<circle cx="263.8" cy="358.9" r="0.95" fill="#f5a300"/>
<circle cx="261" cy="364.9" r="0.95" fill="#f5a300"/>
<circle cx="257.9" cy="373.5" r="0.95" fill="#f5a300"/>
<circle cx="276.4" cy="351.5" r="0.95" fill="#f5a300"/>
<circle cx="277.1" cy="362.1" r="0.95" fill="#f5a300"/>
<circle cx="271.3" cy="379.4" r="0.95" fill="#f5a300"/>
<circle cx="285.7" cy="366" r="0.95" fill="#f5a300"/>
<circle cx="287.6" cy="367.2" r="0.95" fill="#f5a300"/>
<circle cx="286.8" cy="384.8" r="0.95" fill="#f5a300"/>
<circle cx="286.8" cy="388" r="0.95" fill="#f5a300"/>
<circle cx="298.4" cy="356.3" r="0.95" fill="#f5a300"/>
<circle cx="301.2" cy="357.1" r="0.95" fill="#f5a300"/>
<circle cx="303.3" cy="357.5" r="0.95" fill="#f5a300"/>
<circle cx="299.2" cy="362.1" r="0.95" fill="#f5a300"/>
<circle cx="313.4" cy="357.1" r="0.95" fill="#f5a300"/>
<circle cx="311.6" cy="363.2" r="0.95" fill="#f5a300"/>
<circle cx="311.4" cy="367.2" r="0.95" fill="#f5a300"/>
<circle cx="314.2" cy="384.8" r="0.95" fill="#f5a300"/>
<circle cx="326" cy="352.9" r="0.95" fill="#f5a300"/>
<circle cx="324.8" cy="355.9" r="0.95" fill="#f5a300"/>
<circle cx="327.1" cy="355.9" r="0.95" fill="#f5a300"/>
<circle cx="328" cy="357.1" r="0.95" fill="#f5a300"/>
<circle cx="340.8" cy="351.8" r="0.95" fill="#f5a300"/>
<circle cx="338.2" cy="354.6" r="0.95" fill="#f5a300"/>
<circle cx="336.8" cy="355.7" r="0.95" fill="#f5a300"/>
<circle cx="340" cy="355.9" r="0.95" fill="#f5a300"/>
<circle cx="352.2" cy="352.9" r="0.95" fill="#f5a300"/>
<circle cx="353.4" cy="354.8" r="0.95" fill="#f5a300"/>
<circle cx="351.8" cy="356.8" r="0.95" fill="#f5a300"/>
<circle cx="350.2" cy="357.6" r="0.95" fill="#f5a300"/>
<text transform="translate(189.49,352.25) rotate(-90)" font-family="Liberation Sans, sans-serif" font-size="4.5" font-weight="bold" text-anchor="middle" fill="#1a1a1a" stroke="#1a1a1a" stroke-width="0.35">r</text>
<text transform="translate(280.75,423.74) scale(1,1.0)" font-family="Liberation Sans, sans-serif" font-size="4.0" text-anchor="middle" fill="#262626" class="lb2">Model</text>
<rect x="375.1" y="6.5" width="169.9" height="9" fill="#d3d3d3"/>
<text transform="translate(460.05,13.49) scale(1,1.12)" font-family="Liberation Serif, serif" font-size="5.65" text-anchor="middle" fill="#000" class="tt">C. Correlation distribution of the feature selection approaches of dataset1</text>
<text transform="translate(382,116.95) scale(1,1.12)" font-family="Liberation Sans, sans-serif" font-size="4.6" text-anchor="end" fill="#262626" class="lb3">0.1</text>
<line x1="385.4" x2="542.7" y1="100.62" y2="100.62" stroke="#e6e6e6" stroke-width="0.8"/>
<text transform="translate(382,102.48) scale(1,1.12)" font-family="Liberation Sans, sans-serif" font-size="4.6" text-anchor="end" fill="#262626" class="lb3">0.2</text>
<line x1="385.4" x2="542.7" y1="86.15" y2="86.15" stroke="#e6e6e6" stroke-width="0.8"/>
<text transform="translate(382,88) scale(1,1.12)" font-family="Liberation Sans, sans-serif" font-size="4.6" text-anchor="end" fill="#262626" class="lb3">0.3</text>
<line x1="385.4" x2="542.7" y1="71.67" y2="71.67" stroke="#e6e6e6" stroke-width="0.8"/>
<text transform="translate(382,73.52) scale(1,1.12)" font-family="Liberation Sans, sans-serif" font-size="4.6" text-anchor="end" fill="#262626" class="lb3">0.4</text>
<line x1="385.4" x2="542.7" y1="57.19" y2="57.19" stroke="#e6e6e6" stroke-width="0.8"/>
<text transform="translate(382,59.05) scale(1,1.12)" font-family="Liberation Sans, sans-serif" font-size="4.6" text-anchor="end" fill="#262626" class="lb3">0.5</text>
<line x1="385.4" x2="542.7" y1="42.72" y2="42.72" stroke="#e6e6e6" stroke-width="0.8"/>
<text transform="translate(382,44.57) scale(1,1.12)" font-family="Liberation Sans, sans-serif" font-size="4.6" text-anchor="end" fill="#262626" class="lb3">0.6</text>
<line x1="385.4" x2="542.7" y1="28.24" y2="28.24" stroke="#e6e6e6" stroke-width="0.8"/>
<text transform="translate(382,30.09) scale(1,1.12)" font-family="Liberation Sans, sans-serif" font-size="4.6" text-anchor="end" fill="#262626" class="lb3">0.7</text>
<rect x="385.4" y="21" width="157.3" height="94.1" fill="none" stroke="#d9d9d9" stroke-width="0.8"/>
<line x1="405.06" x2="405.06" y1="61.17" y2="57.19" stroke="#444444" stroke-width="0.6"/>
<line x1="405.06" x2="405.06" y1="67.69" y2="68.77" stroke="#444444" stroke-width="0.6"/>
<line x1="397.2" x2="412.93" y1="57.19" y2="57.19" stroke="#444444" stroke-width="0.6"/>
<line x1="397.2" x2="412.93" y1="68.77" y2="68.77" stroke="#444444" stroke-width="0.6"/>
<rect x="389.33" y="61.17" width="31.46" height="6.51" fill="#cb3335" stroke="#444444" stroke-width="0.6"/>
<line x1="389.33" x2="420.79" y1="62.98" y2="62.98" stroke="#444444" stroke-width="0.6"/>
<text transform="translate(405.06,123.35) scale(1,1.12) rotate(-30)" font-family="Liberation Sans, sans-serif" font-size="4.5" text-anchor="middle" dy="0.36em" fill="#262626" class="lb3">VT</text>
<line x1="444.39" x2="444.39" y1="62.62" y2="60.09" stroke="#444444" stroke-width="0.6"/>
<line x1="444.39" x2="444.39" y1="66.6" y2="68.77" stroke="#444444" stroke-width="0.6"/>
<line x1="436.52" x2="452.25" y1="60.09" y2="60.09" stroke="#444444" stroke-width="0.6"/>
<line x1="436.52" x2="452.25" y1="68.77" y2="68.77" stroke="#444444" stroke-width="0.6"/>
<rect x="428.66" y="62.62" width="31.46" height="3.98" fill="#477ca8" stroke="#444444" stroke-width="0.6"/>
<line x1="428.66" x2="460.12" y1="64.43" y2="64.43" stroke="#444444" stroke-width="0.6"/>
<text transform="translate(444.39,123.70) scale(1,1.12) rotate(-30)" font-family="Liberation Sans, sans-serif" font-size="4.5" text-anchor="middle" dy="0.36em" fill="#262626" class="lb3">MR</text>
<line x1="483.71" x2="483.71" y1="66.96" y2="65.88" stroke="#444444" stroke-width="0.6"/>
<line x1="483.71" x2="483.71" y1="73.48" y2="80.36" stroke="#444444" stroke-width="0.6"/>
<line x1="475.85" x2="491.58" y1="65.88" y2="65.88" stroke="#444444" stroke-width="0.6"/>
<line x1="475.85" x2="491.58" y1="80.36" y2="80.36" stroke="#444444" stroke-width="0.6"/>
<rect x="467.98" y="66.96" width="31.46" height="6.51" fill="#59a257" stroke="#444444" stroke-width="0.6"/>
<line x1="467.98" x2="499.44" y1="68.77" y2="68.77" stroke="#444444" stroke-width="0.6"/>
<text transform="translate(483.71,128.32) scale(1,1.12) rotate(-30)" font-family="Liberation Sans, sans-serif" font-size="4.5" text-anchor="middle" dy="0.36em" fill="#262626" class="lb3">Corr_Matrix</text>
<line x1="523.04" x2="523.04" y1="57.19" y2="57.19" stroke="#444444" stroke-width="0.6"/>
<line x1="523.04" x2="523.04" y1="67.33" y2="77.46" stroke="#444444" stroke-width="0.6"/>
<line x1="515.17" x2="530.9" y1="57.19" y2="57.19" stroke="#444444" stroke-width="0.6"/>
<line x1="515.17" x2="530.9" y1="77.46" y2="77.46" stroke="#444444" stroke-width="0.6"/>
<rect x="507.31" y="57.19" width="31.46" height="10.13" fill="#905998" stroke="#444444" stroke-width="0.6"/>
<line x1="507.31" x2="538.77" y1="61.54" y2="61.54" stroke="#444444" stroke-width="0.6"/>
<text transform="translate(523.04,126.08) scale(1,1.12) rotate(-30)" font-family="Liberation Sans, sans-serif" font-size="4.5" text-anchor="middle" dy="0.36em" fill="#262626" class="lb3">BayesA</text>
<circle cx="411.4" cy="56.8" r="0.95" fill="#f5a300"/>
<circle cx="396.2" cy="59.6" r="0.95" fill="#f5a300"/>
<circle cx="397.5" cy="61.2" r="0.95" fill="#f5a300"/>
<circle cx="402.9" cy="59.6" r="0.95" fill="#f5a300"/>
<circle cx="403.1" cy="62.7" r="0.95" fill="#f5a300"/>
<circle cx="412.8" cy="62.7" r="0.95" fill="#f5a300"/>
<circle cx="405.4" cy="66.7" r="0.95" fill="#f5a300"/>
<circle cx="403.1" cy="68.6" r="0.95" fill="#f5a300"/>
<circle cx="404.9" cy="78.4" r="0.95" fill="#f5a300"/>
<circle cx="444.9" cy="55.3" r="0.95" fill="#f5a300"/>
<circle cx="450.8" cy="59.8" r="0.95" fill="#f5a300"/>
<circle cx="444.9" cy="62.6" r="0.95" fill="#f5a300"/>
<circle cx="448.2" cy="62.7" r="0.95" fill="#f5a300"/>
<circle cx="454.2" cy="64.4" r="0.95" fill="#f5a300"/>
<circle cx="441.2" cy="65.3" r="0.95" fill="#f5a300"/>
<circle cx="443.1" cy="65.5" r="0.95" fill="#f5a300"/>
<circle cx="444" cy="65.8" r="0.95" fill="#f5a300"/>
<circle cx="446.8" cy="68.6" r="0.95" fill="#f5a300"/>
<circle cx="449.1" cy="68.6" r="0.95" fill="#f5a300"/>
<circle cx="444.9" cy="72.5" r="0.95" fill="#f5a300"/>
<circle cx="475.2" cy="65.5" r="0.95" fill="#f5a300"/>
<circle cx="483.5" cy="65.5" r="0.95" fill="#f5a300"/>
<circle cx="486.2" cy="67.2" r="0.95" fill="#f5a300"/>
<circle cx="487.6" cy="68.6" r="0.95" fill="#f5a300"/>
<circle cx="479.3" cy="71.6" r="0.95" fill="#f5a300"/>
<circle cx="483.9" cy="71.6" r="0.95" fill="#f5a300"/>
<circle cx="478.9" cy="78.7" r="0.95" fill="#f5a300"/>
<circle cx="491.8" cy="80.1" r="0.95" fill="#f5a300"/>
<circle cx="481.4" cy="82.9" r="0.95" fill="#f5a300"/>
<circle cx="520.6" cy="56.8" r="0.95" fill="#f5a300"/>
<circle cx="522.9" cy="56.8" r="0.95" fill="#f5a300"/>
<circle cx="525.6" cy="56.8" r="0.95" fill="#f5a300"/>
<circle cx="530.7" cy="56.8" r="0.95" fill="#f5a300"/>
<circle cx="530.3" cy="58.9" r="0.95" fill="#f5a300"/>
<circle cx="515.5" cy="64.2" r="0.95" fill="#f5a300"/>
<circle cx="532.4" cy="64.2" r="0.95" fill="#f5a300"/>
<circle cx="514.5" cy="67.2" r="0.95" fill="#f5a300"/>
<circle cx="528" cy="66.7" r="0.95" fill="#f5a300"/>
<circle cx="531.2" cy="68.8" r="0.95" fill="#f5a300"/>
<circle cx="529.3" cy="77.3" r="0.95" fill="#f5a300"/>
<text transform="translate(369.28,62.87) rotate(-90)" font-family="Liberation Sans, sans-serif" font-size="5.2" font-weight="bold" text-anchor="middle" fill="#1a1a1a" stroke="#1a1a1a" stroke-width="0.35">r</text>
<text transform="translate(464.05,143.1) scale(1,1.12)" font-family="Liberation Sans, sans-serif" font-size="5.2" text-anchor="middle" fill="#262626" class="lb3">FeatureSelection</text>
<rect x="376.2" y="151.7" width="166.5" height="8.5" fill="#d3d3d3"/>
<text transform="translate(459.45,158.41) scale(1,1.12)" font-family="Liberation Serif, serif" font-size="5.57" text-anchor="middle" fill="#000" class="tt">F. Correlation distribution of the feature selection approaches of dataset2</text>
<text transform="translate(382,257.95) scale(1,1.12)" font-family="Liberation Sans, sans-serif" font-size="4.6" text-anchor="end" fill="#262626" class="lb3">0.1</text>
<line x1="385.4" x2="540.4" y1="242.05" y2="242.05" stroke="#e6e6e6" stroke-width="0.8"/>
<text transform="translate(382,243.91) scale(1,1.12)" font-family="Liberation Sans, sans-serif" font-size="4.6" text-anchor="end" fill="#262626" class="lb3">0.2</text>
<line x1="385.4" x2="540.4" y1="228.01" y2="228.01" stroke="#e6e6e6" stroke-width="0.8"/>
<text transform="translate(382,229.86) scale(1,1.12)" font-family="Liberation Sans, sans-serif" font-size="4.6" text-anchor="end" fill="#262626" class="lb3">0.3</text>
<line x1="385.4" x2="540.4" y1="213.96" y2="213.96" stroke="#e6e6e6" stroke-width="0.8"/>
<text transform="translate(382,215.82) scale(1,1.12)" font-family="Liberation Sans, sans-serif" font-size="4.6" text-anchor="end" fill="#262626" class="lb3">0.4</text>
<line x1="385.4" x2="540.4" y1="199.92" y2="199.92" stroke="#e6e6e6" stroke-width="0.8"/>
<text transform="translate(382,201.77) scale(1,1.12)" font-family="Liberation Sans, sans-serif" font-size="4.6" text-anchor="end" fill="#262626" class="lb3">0.5</text>
<line x1="385.4" x2="540.4" y1="185.87" y2="185.87" stroke="#e6e6e6" stroke-width="0.8"/>
<text transform="translate(382,187.72) scale(1,1.12)" font-family="Liberation Sans, sans-serif" font-size="4.6" text-anchor="end" fill="#262626" class="lb3">0.6</text>
<line x1="385.4" x2="540.4" y1="171.82" y2="171.82" stroke="#e6e6e6" stroke-width="0.8"/>
<text transform="translate(382,173.68) scale(1,1.12)" font-family="Liberation Sans, sans-serif" font-size="4.6" text-anchor="end" fill="#262626" class="lb3">0.7</text>
<rect x="385.4" y="164.8" width="155" height="91.3" fill="none" stroke="#d9d9d9" stroke-width="0.8"/>
<line x1="404.77" x2="404.77" y1="191.49" y2="191.49" stroke="#444444" stroke-width="0.6"/>
<line x1="404.77" x2="404.77" y1="193.24" y2="195.7" stroke="#444444" stroke-width="0.6"/>
<line x1="397.02" x2="412.52" y1="191.49" y2="191.49" stroke="#444444" stroke-width="0.6"/>
<line x1="397.02" x2="412.52" y1="195.7" y2="195.7" stroke="#444444" stroke-width="0.6"/>
<rect x="389.27" y="191.49" width="31" height="1.76" fill="#cb3335" stroke="#444444" stroke-width="0.6"/>
<line x1="389.27" x2="420.27" y1="192.19" y2="192.19" stroke="#444444" stroke-width="0.6"/>
<text transform="translate(404.77,264.35) scale(1,1.12) rotate(-30)" font-family="Liberation Sans, sans-serif" font-size="4.5" text-anchor="middle" dy="0.36em" fill="#262626" class="lb3">VT</text>
<line x1="443.52" x2="443.52" y1="189.38" y2="187.27" stroke="#444444" stroke-width="0.6"/>
<line x1="443.52" x2="443.52" y1="193.59" y2="197.11" stroke="#444444" stroke-width="0.6"/>
<line x1="435.77" x2="451.27" y1="187.27" y2="187.27" stroke="#444444" stroke-width="0.6"/>
<line x1="435.77" x2="451.27" y1="197.11" y2="197.11" stroke="#444444" stroke-width="0.6"/>
<rect x="428.02" y="189.38" width="31" height="4.21" fill="#477ca8" stroke="#444444" stroke-width="0.6"/>
<line x1="428.02" x2="459.02" y1="190.79" y2="190.79" stroke="#444444" stroke-width="0.6"/>
<text transform="translate(443.52,264.70) scale(1,1.12) rotate(-30)" font-family="Liberation Sans, sans-serif" font-size="4.5" text-anchor="middle" dy="0.36em" fill="#262626" class="lb3">MR</text>
<line x1="482.27" x2="482.27" y1="182.71" y2="176.04" stroke="#444444" stroke-width="0.6"/>
<line x1="482.27" x2="482.27" y1="188.68" y2="196.83" stroke="#444444" stroke-width="0.6"/>
<line x1="474.52" x2="490.02" y1="176.04" y2="176.04" stroke="#444444" stroke-width="0.6"/>
<line x1="474.52" x2="490.02" y1="196.83" y2="196.83" stroke="#444444" stroke-width="0.6"/>
<rect x="466.77" y="182.71" width="31" height="5.97" fill="#59a257" stroke="#444444" stroke-width="0.6"/>
<line x1="466.77" x2="497.77" y1="186.57" y2="186.57" stroke="#444444" stroke-width="0.6"/>
<text transform="translate(482.27,269.32) scale(1,1.12) rotate(-30)" font-family="Liberation Sans, sans-serif" font-size="4.5" text-anchor="middle" dy="0.36em" fill="#262626" class="lb3">Corr_Matrix</text>
<line x1="521.02" x2="521.02" y1="176.04" y2="169.01" stroke="#444444" stroke-width="0.6"/>
<line x1="521.02" x2="521.02" y1="183.06" y2="192.89" stroke="#444444" stroke-width="0.6"/>
<line x1="513.27" x2="528.77" y1="169.01" y2="169.01" stroke="#444444" stroke-width="0.6"/>
<line x1="513.27" x2="528.77" y1="192.89" y2="192.89" stroke="#444444" stroke-width="0.6"/>
<rect x="505.52" y="176.04" width="31" height="7.02" fill="#905998" stroke="#444444" stroke-width="0.6"/>
<line x1="505.52" x2="536.52" y1="180.25" y2="180.25" stroke="#444444" stroke-width="0.6"/>
<text transform="translate(521.02,267.08) scale(1,1.12) rotate(-30)" font-family="Liberation Sans, sans-serif" font-size="4.5" text-anchor="middle" dy="0.36em" fill="#262626" class="lb3">BayesA</text>
<circle cx="408.4" cy="188.5" r="0.95" fill="#f5a300"/>
<circle cx="412.8" cy="188.5" r="0.95" fill="#f5a300"/>
<circle cx="396.6" cy="191.4" r="0.95" fill="#f5a300"/>
<circle cx="398.9" cy="192.2" r="0.95" fill="#f5a300"/>
<circle cx="405.9" cy="191.7" r="0.95" fill="#f5a300"/>
<circle cx="408.2" cy="192.6" r="0.95" fill="#f5a300"/>
<circle cx="410.2" cy="193.1" r="0.95" fill="#f5a300"/>
<circle cx="407.7" cy="195.7" r="0.95" fill="#f5a300"/>
<circle cx="405.4" cy="198.5" r="0.95" fill="#f5a300"/>
<circle cx="439.9" cy="182.9" r="0.95" fill="#f5a300"/>
<circle cx="439.7" cy="187.1" r="0.95" fill="#f5a300"/>
<circle cx="440.2" cy="189.4" r="0.95" fill="#f5a300"/>
<circle cx="435.5" cy="190.1" r="0.95" fill="#f5a300"/>
<circle cx="434.6" cy="191.7" r="0.95" fill="#f5a300"/>
<circle cx="448.2" cy="189.9" r="0.95" fill="#f5a300"/>
<circle cx="448.2" cy="192.6" r="0.95" fill="#f5a300"/>
<circle cx="450.8" cy="195.9" r="0.95" fill="#f5a300"/>
<circle cx="434.3" cy="197.3" r="0.95" fill="#f5a300"/>
<circle cx="451" cy="201.2" r="0.95" fill="#f5a300"/>
<circle cx="480.2" cy="175.9" r="0.95" fill="#f5a300"/>
<circle cx="479.5" cy="177.5" r="0.95" fill="#f5a300"/>
<circle cx="490.6" cy="176.1" r="0.95" fill="#f5a300"/>
<circle cx="486.6" cy="184.4" r="0.95" fill="#f5a300"/>
<circle cx="476" cy="185.5" r="0.95" fill="#f5a300"/>
<circle cx="479.7" cy="186.1" r="0.95" fill="#f5a300"/>
<circle cx="479.2" cy="187.2" r="0.95" fill="#f5a300"/>
<circle cx="488.5" cy="187.2" r="0.95" fill="#f5a300"/>
<circle cx="476.9" cy="188.8" r="0.95" fill="#f5a300"/>
<circle cx="485.2" cy="188.8" r="0.95" fill="#f5a300"/>
<circle cx="473.2" cy="189.9" r="0.95" fill="#f5a300"/>
<circle cx="489.7" cy="197.1" r="0.95" fill="#f5a300"/>
<circle cx="525.4" cy="169.1" r="0.95" fill="#f5a300"/>
<circle cx="518" cy="174.3" r="0.95" fill="#f5a300"/>
<circle cx="512.9" cy="175.9" r="0.95" fill="#f5a300"/>
<circle cx="513.9" cy="176.4" r="0.95" fill="#f5a300"/>
<circle cx="513.4" cy="178.9" r="0.95" fill="#f5a300"/>
<circle cx="521.7" cy="178.9" r="0.95" fill="#f5a300"/>
<circle cx="517.6" cy="181.7" r="0.95" fill="#f5a300"/>
<circle cx="519.9" cy="182" r="0.95" fill="#f5a300"/>
<circle cx="522" cy="182" r="0.95" fill="#f5a300"/>
<circle cx="521.7" cy="187.3" r="0.95" fill="#f5a300"/>
<circle cx="521.7" cy="192.8" r="0.95" fill="#f5a300"/>
<text transform="translate(371.98,206.97) rotate(-90)" font-family="Liberation Sans, sans-serif" font-size="5.2" font-weight="bold" text-anchor="middle" fill="#1a1a1a" stroke="#1a1a1a" stroke-width="0.35">r</text>
<text transform="translate(462.9,284.1) scale(1,1.12)" font-family="Liberation Sans, sans-serif" font-size="5.2" text-anchor="middle" fill="#262626" class="lb3">FeatureSelection</text>
<rect x="372.9" y="296.3" width="167.6" height="8.3" fill="#d3d3d3"/>
<text transform="translate(456.7,302.93) scale(1,1.12)" font-family="Liberation Serif, serif" font-size="5.64" text-anchor="middle" fill="#000" class="tt">I. Correlation distribution of the feature selection approaches of dataset3</text>
<text transform="translate(383.4,402.87) scale(1,1.12)" font-family="Liberation Sans, sans-serif" font-size="4.4" text-anchor="end" fill="#262626" class="lb3">0.1</text>
<line x1="387.3" x2="538.6" y1="386.85" y2="386.85" stroke="#e6e6e6" stroke-width="0.8"/>
<text transform="translate(383.4,388.63) scale(1,1.12)" font-family="Liberation Sans, sans-serif" font-size="4.4" text-anchor="end" fill="#262626" class="lb3">0.2</text>
<line x1="387.3" x2="538.6" y1="372.61" y2="372.61" stroke="#e6e6e6" stroke-width="0.8"/>
<text transform="translate(383.4,374.38) scale(1,1.12)" font-family="Liberation Sans, sans-serif" font-size="4.4" text-anchor="end" fill="#262626" class="lb3">0.3</text>
<line x1="387.3" x2="538.6" y1="358.36" y2="358.36" stroke="#e6e6e6" stroke-width="0.8"/>
<text transform="translate(383.4,360.14) scale(1,1.12)" font-family="Liberation Sans, sans-serif" font-size="4.4" text-anchor="end" fill="#262626" class="lb3">0.4</text>
<line x1="387.3" x2="538.6" y1="344.12" y2="344.12" stroke="#e6e6e6" stroke-width="0.8"/>
<text transform="translate(383.4,345.89) scale(1,1.12)" font-family="Liberation Sans, sans-serif" font-size="4.4" text-anchor="end" fill="#262626" class="lb3">0.5</text>
<line x1="387.3" x2="538.6" y1="329.87" y2="329.87" stroke="#e6e6e6" stroke-width="0.8"/>
<text transform="translate(383.4,331.64) scale(1,1.12)" font-family="Liberation Sans, sans-serif" font-size="4.4" text-anchor="end" fill="#262626" class="lb3">0.6</text>
<line x1="387.3" x2="538.6" y1="315.62" y2="315.62" stroke="#e6e6e6" stroke-width="0.8"/>
<text transform="translate(383.4,317.4) scale(1,1.12)" font-family="Liberation Sans, sans-serif" font-size="4.4" text-anchor="end" fill="#262626" class="lb3">0.7</text>
<rect x="387.3" y="308.5" width="151.3" height="92.6" fill="none" stroke="#d9d9d9" stroke-width="0.8"/>
<line x1="406.21" x2="406.21" y1="356.58" y2="351.24" stroke="#444444" stroke-width="0.6"/>
<line x1="406.21" x2="406.21" y1="362.64" y2="369.76" stroke="#444444" stroke-width="0.6"/>
<line x1="398.65" x2="413.78" y1="351.24" y2="351.24" stroke="#444444" stroke-width="0.6"/>
<line x1="398.65" x2="413.78" y1="369.76" y2="369.76" stroke="#444444" stroke-width="0.6"/>
<rect x="391.08" y="356.58" width="30.26" height="6.05" fill="#cb3335" stroke="#444444" stroke-width="0.6"/>
<line x1="391.08" x2="421.34" y1="359.79" y2="359.79" stroke="#444444" stroke-width="0.6"/>
<text transform="translate(406.21,409.35) scale(1,1.12) rotate(-30)" font-family="Liberation Sans, sans-serif" font-size="4.5" text-anchor="middle" dy="0.36em" fill="#262626" class="lb3">VT</text>
<line x1="444.04" x2="444.04" y1="355.51" y2="352.66" stroke="#444444" stroke-width="0.6"/>
<line x1="444.04" x2="444.04" y1="366.91" y2="378.31" stroke="#444444" stroke-width="0.6"/>
<line x1="436.47" x2="451.6" y1="352.66" y2="352.66" stroke="#444444" stroke-width="0.6"/>
<line x1="436.47" x2="451.6" y1="378.31" y2="378.31" stroke="#444444" stroke-width="0.6"/>
<rect x="428.91" y="355.51" width="30.26" height="11.4" fill="#477ca8" stroke="#444444" stroke-width="0.6"/>
<line x1="428.91" x2="459.17" y1="357.65" y2="357.65" stroke="#444444" stroke-width="0.6"/>
<text transform="translate(444.04,409.70) scale(1,1.12) rotate(-30)" font-family="Liberation Sans, sans-serif" font-size="4.5" text-anchor="middle" dy="0.36em" fill="#262626" class="lb3">MR</text>
<line x1="481.86" x2="481.86" y1="351.24" y2="349.81" stroke="#444444" stroke-width="0.6"/>
<line x1="481.86" x2="481.86" y1="367.62" y2="386.85" stroke="#444444" stroke-width="0.6"/>
<line x1="474.3" x2="489.43" y1="349.81" y2="349.81" stroke="#444444" stroke-width="0.6"/>
<line x1="474.3" x2="489.43" y1="386.85" y2="386.85" stroke="#444444" stroke-width="0.6"/>
<rect x="466.73" y="351.24" width="30.26" height="16.38" fill="#59a257" stroke="#444444" stroke-width="0.6"/>
<line x1="466.73" x2="496.99" y1="354.09" y2="354.09" stroke="#444444" stroke-width="0.6"/>
<text transform="translate(481.86,414.32) scale(1,1.12) rotate(-30)" font-family="Liberation Sans, sans-serif" font-size="4.5" text-anchor="middle" dy="0.36em" fill="#262626" class="lb3">Corr_Matrix</text>
<line x1="519.69" x2="519.69" y1="355.8" y2="355.51" stroke="#444444" stroke-width="0.6"/>
<line x1="519.69" x2="519.69" y1="368.69" y2="384" stroke="#444444" stroke-width="0.6"/>
<line x1="512.12" x2="527.25" y1="355.51" y2="355.51" stroke="#444444" stroke-width="0.6"/>
<line x1="512.12" x2="527.25" y1="384" y2="384" stroke="#444444" stroke-width="0.6"/>
<rect x="504.56" y="355.8" width="30.26" height="12.89" fill="#905998" stroke="#444444" stroke-width="0.6"/>
<line x1="504.56" x2="534.82" y1="359.07" y2="359.07" stroke="#444444" stroke-width="0.6"/>
<text transform="translate(519.69,412.08) scale(1,1.12) rotate(-30)" font-family="Liberation Sans, sans-serif" font-size="4.5" text-anchor="middle" dy="0.36em" fill="#262626" class="lb3">BayesA</text>
<circle cx="407.3" cy="350.9" r="0.95" fill="#f5a300"/>
<circle cx="407.8" cy="355.2" r="0.95" fill="#f5a300"/>
<circle cx="410.8" cy="355.2" r="0.95" fill="#f5a300"/>
<circle cx="399.9" cy="357.1" r="0.95" fill="#f5a300"/>
<circle cx="401.3" cy="357.1" r="0.95" fill="#f5a300"/>
<circle cx="410.8" cy="358.5" r="0.95" fill="#f5a300"/>
<circle cx="399.9" cy="361.4" r="0.95" fill="#f5a300"/>
<circle cx="402.7" cy="361.4" r="0.95" fill="#f5a300"/>
<circle cx="409.6" cy="362.6" r="0.95" fill="#f5a300"/>
<circle cx="413.8" cy="365.7" r="0.95" fill="#f5a300"/>
<circle cx="406.9" cy="370" r="0.95" fill="#f5a300"/>
<circle cx="451.8" cy="352.7" r="0.95" fill="#f5a300"/>
<circle cx="435.3" cy="353.9" r="0.95" fill="#f5a300"/>
<circle cx="437" cy="355.2" r="0.95" fill="#f5a300"/>
<circle cx="438.7" cy="356.6" r="0.95" fill="#f5a300"/>
<circle cx="443.3" cy="356.8" r="0.95" fill="#f5a300"/>
<circle cx="451.6" cy="358.3" r="0.95" fill="#f5a300"/>
<circle cx="434.7" cy="362.6" r="0.95" fill="#f5a300"/>
<circle cx="435.3" cy="366.8" r="0.95" fill="#f5a300"/>
<circle cx="445.5" cy="366.8" r="0.95" fill="#f5a300"/>
<circle cx="449.2" cy="369.7" r="0.95" fill="#f5a300"/>
<circle cx="449.2" cy="378.1" r="0.95" fill="#f5a300"/>
<circle cx="473" cy="349.8" r="0.95" fill="#f5a300"/>
<circle cx="476.9" cy="351.3" r="0.95" fill="#f5a300"/>
<circle cx="487.8" cy="349.8" r="0.95" fill="#f5a300"/>
<circle cx="490.7" cy="351.3" r="0.95" fill="#f5a300"/>
<circle cx="473" cy="352.9" r="0.95" fill="#f5a300"/>
<circle cx="488.7" cy="352.9" r="0.95" fill="#f5a300"/>
<circle cx="477.6" cy="355.6" r="0.95" fill="#f5a300"/>
<circle cx="476.7" cy="361.4" r="0.95" fill="#f5a300"/>
<circle cx="479.6" cy="366.7" r="0.95" fill="#f5a300"/>
<circle cx="475.9" cy="369.8" r="0.95" fill="#f5a300"/>
<circle cx="475" cy="383.9" r="0.95" fill="#f5a300"/>
<circle cx="487.8" cy="387.1" r="0.95" fill="#f5a300"/>
<circle cx="516.8" cy="355.3" r="0.95" fill="#f5a300"/>
<circle cx="527.7" cy="355.3" r="0.95" fill="#f5a300"/>
<circle cx="510.3" cy="357" r="0.95" fill="#f5a300"/>
<circle cx="524.5" cy="357" r="0.95" fill="#f5a300"/>
<circle cx="524.9" cy="358.4" r="0.95" fill="#f5a300"/>
<circle cx="526.8" cy="360" r="0.95" fill="#f5a300"/>
<circle cx="513.4" cy="362.7" r="0.95" fill="#f5a300"/>
<circle cx="516.8" cy="368.6" r="0.95" fill="#f5a300"/>
<circle cx="522.4" cy="369.9" r="0.95" fill="#f5a300"/>
<circle cx="521.1" cy="372.7" r="0.95" fill="#f5a300"/>
<circle cx="527" cy="384.3" r="0.95" fill="#f5a300"/>
<text transform="translate(372.68,351.57) rotate(-90)" font-family="Liberation Sans, sans-serif" font-size="5.2" font-weight="bold" text-anchor="middle" fill="#1a1a1a" stroke="#1a1a1a" stroke-width="0.35">r</text>
<text transform="translate(462.95,429.1) scale(1,1.12)" font-family="Liberation Sans, sans-serif" font-size="5.2" text-anchor="middle" fill="#262626" class="lb3">FeatureSelection</text>
</g>
</svg>
</body></html>
